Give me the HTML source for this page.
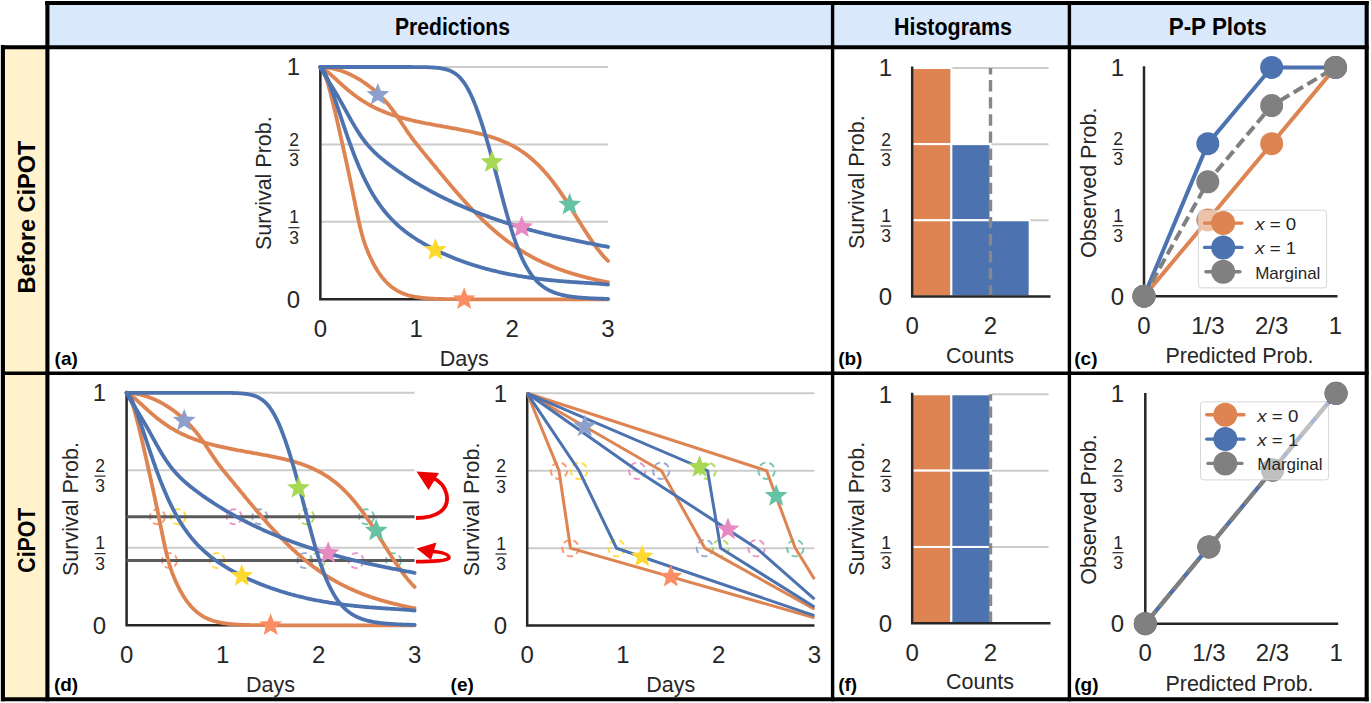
<!DOCTYPE html><html><head><meta charset="utf-8"><style>html,body{margin:0;padding:0;background:#fff;overflow:hidden}svg{display:block;font-family:"Liberation Sans",sans-serif;}</style></head><body>
<svg width="1371" height="703" viewBox="0 0 1371 703">
<rect x="0" y="0" width="1371" height="703" fill="#fff"/>
<rect x="47" y="3" width="1319.7" height="44.2" fill="#dae8fc"/>
<rect x="2.9" y="47" width="44.1" height="652.3" fill="#fff2cc"/>
<line x1="320.35" y1="67" x2="607.99" y2="67" stroke="#cccccc" stroke-width="2"/><line x1="320.35" y1="144.43" x2="607.99" y2="144.43" stroke="#cccccc" stroke-width="2"/><line x1="320.35" y1="221.87" x2="607.99" y2="221.87" stroke="#cccccc" stroke-width="2"/><path d="M320.35 66.2 V299.3 H607.99" fill="none" stroke="#262626" stroke-width="2.5"/>
<path d="M320.35 67 L321.09 67.45 L321.83 68.33 L322.56 69.52 L323.3 70.95 L324.04 72.59 L324.78 74.42 L325.51 76.42 L326.25 78.56 L326.99 80.84 L327.73 83.24 L328.46 85.76 L329.2 88.37 L329.94 91.08 L330.68 93.87 L331.41 96.73 L332.15 99.66 L332.89 102.65 L333.63 105.69 L334.36 108.77 L335.1 111.9 L335.84 115.06 L336.58 118.25 L337.31 121.46 L338.05 124.7 L338.79 127.95 L339.53 131.22 L340.26 134.5 L341 137.8 L341.74 141.1 L342.48 144.41 L343.21 147.73 L343.95 151.06 L344.69 154.4 L345.43 157.75 L346.16 161.12 L346.9 164.51 L347.64 167.91 L348.38 171.34 L349.11 174.8 L350.3 180.4 L351.48 186.08 L352.66 191.83 L353.84 197.65 L355.02 203.49 L356.21 209.29 L357.39 215 L358.57 220.5 L359.75 225.73 L360.93 230.61 L362.12 235.08 L363.3 239.15 L364.48 242.83 L365.66 246.19 L366.85 249.29 L368.03 252.19 L369.21 254.92 L370.39 257.52 L371.57 259.99 L372.76 262.35 L373.94 264.59 L375.12 266.73 L376.3 268.75 L377.48 270.68 L378.67 272.5 L379.85 274.22 L381.03 275.86 L382.21 277.4 L383.39 278.86 L384.58 280.23 L385.76 281.53 L386.94 282.75 L388.12 283.89 L389.3 284.97 L390.49 285.98 L391.67 286.93 L392.85 287.82 L394.03 288.66 L395.22 289.44 L396.4 290.16 L397.58 290.85 L398.76 291.48 L399.94 292.07 L401.13 292.63 L402.31 293.14 L403.49 293.62 L404.67 294.06 L405.85 294.48 L407.04 294.86 L408.22 295.22 L409.4 295.55 L410.58 295.85 L411.76 296.13 L412.95 296.39 L414.13 296.64 L415.31 296.86 L416.49 297.06 L417.67 297.25 L418.86 297.43 L420.04 297.59 L421.22 297.74 L422.4 297.87 L423.59 298 L424.77 298.11 L425.95 298.22 L427.13 298.31 L428.31 298.4 L429.5 298.48 L430.68 298.56 L431.86 298.63 L433.04 298.69 L434.22 298.74 L435.41 298.8 L436.59 298.84 L437.77 298.89 L438.95 298.93 L440.13 298.96 L441.32 298.99 L442.5 299.02 L443.68 299.05 L444.86 299.07 L446.04 299.1 L447.23 299.12 L448.41 299.13 L449.59 299.15 L450.77 299.17 L451.96 299.18 L453.14 299.19 L454.32 299.2 L455.5 299.21 L456.68 299.22 L457.87 299.23 L459.05 299.24 L460.23 299.24 L461.41 299.25 L462.59 299.25 L463.78 299.26 L464.96 299.26 L466.14 299.27 L467.32 299.27 L468.5 299.27 L469.69 299.28 L470.87 299.28 L472.05 299.28 L473.23 299.28 L474.41 299.29 L475.6 299.29 L476.78 299.29 L477.96 299.29 L479.14 299.29 L480.33 299.29 L481.51 299.29 L482.69 299.29 L483.87 299.29 L485.05 299.29 L486.24 299.3 L487.42 299.3 L488.6 299.3 L489.78 299.3 L490.96 299.3 L492.15 299.3 L493.33 299.3 L494.51 299.3 L495.69 299.3 L496.87 299.3 L498.06 299.3 L499.24 299.3 L500.42 299.3 L501.6 299.3 L502.78 299.3 L503.97 299.3 L505.15 299.3 L506.33 299.3 L507.51 299.3 L508.7 299.3 L509.88 299.3 L511.06 299.3 L512.24 299.3 L513.42 299.3 L514.61 299.3 L515.79 299.3 L516.97 299.3 L518.15 299.3 L519.33 299.3 L520.52 299.3 L521.7 299.3 L522.88 299.3 L524.06 299.3 L525.24 299.3 L526.43 299.3 L527.61 299.3 L528.79 299.3 L529.97 299.3 L531.15 299.3 L532.34 299.3 L533.52 299.3 L534.7 299.3 L535.88 299.3 L537.07 299.3 L538.25 299.3 L539.43 299.3 L540.61 299.3 L541.79 299.3 L542.98 299.3 L544.16 299.3 L545.34 299.3 L546.52 299.3 L547.7 299.3 L548.89 299.3 L550.07 299.3 L551.25 299.3 L552.43 299.3 L553.61 299.3 L554.8 299.3 L555.98 299.3 L557.16 299.3 L558.34 299.3 L559.52 299.3 L560.71 299.3 L561.89 299.3 L563.07 299.3 L564.25 299.3 L565.44 299.3 L566.62 299.3 L567.8 299.3 L568.98 299.3 L570.16 299.3 L571.35 299.3 L572.53 299.3 L573.71 299.3 L574.89 299.3 L576.07 299.3 L577.26 299.3 L578.44 299.3 L579.62 299.3 L580.8 299.3 L581.98 299.3 L583.17 299.3 L584.35 299.3 L585.53 299.3 L586.71 299.3 L587.89 299.3 L589.08 299.3 L590.26 299.3 L591.44 299.3 L592.62 299.3 L593.81 299.3 L594.99 299.3 L596.17 299.3 L597.35 299.3 L598.53 299.3 L599.72 299.3 L600.9 299.3 L602.08 299.3 L603.26 299.3 L604.44 299.3 L605.63 299.3 L606.81 299.3 L607.99 299.3" fill="none" stroke="#dd8452" stroke-width="3.8" stroke-linejoin="round" stroke-linecap="round"/><path d="M320.35 67 L321.09 67.01 L321.83 67.04 L322.56 67.08 L323.3 67.12 L324.04 67.18 L324.78 67.25 L325.51 67.32 L326.25 67.41 L326.99 67.5 L327.73 67.6 L328.46 67.71 L329.2 67.82 L329.94 67.95 L330.68 68.08 L331.41 68.22 L332.15 68.37 L332.89 68.53 L333.63 68.7 L334.36 68.87 L335.1 69.05 L335.84 69.24 L336.58 69.44 L337.31 69.64 L338.05 69.86 L338.79 70.08 L339.53 70.31 L340.26 70.55 L341 70.79 L341.74 71.05 L342.48 71.31 L343.21 71.58 L343.95 71.85 L344.69 72.14 L345.43 72.43 L346.16 72.74 L346.9 73.04 L347.64 73.36 L348.38 73.69 L349.11 74.02 L350.3 74.57 L351.48 75.15 L352.66 75.74 L353.84 76.35 L355.02 76.99 L356.21 77.64 L357.39 78.32 L358.57 79.01 L359.75 79.73 L360.93 80.47 L362.12 81.23 L363.3 82.01 L364.48 82.81 L365.66 83.63 L366.85 84.48 L368.03 85.35 L369.21 86.24 L370.39 87.15 L371.57 88.09 L372.76 89.06 L373.94 90.05 L375.12 91.06 L376.3 92.1 L377.48 93.18 L378.67 94.28 L379.85 95.41 L381.03 96.58 L382.21 97.77 L383.39 99.01 L384.58 100.28 L385.76 101.59 L386.94 102.93 L388.12 104.32 L389.3 105.75 L390.49 107.22 L391.67 108.74 L392.85 110.29 L394.03 111.89 L395.22 113.53 L396.4 115.2 L397.58 116.91 L398.76 118.64 L399.94 120.4 L401.13 122.18 L402.31 123.97 L403.49 125.76 L404.67 127.55 L405.85 129.32 L407.04 131.08 L408.22 132.81 L409.4 134.51 L410.58 136.18 L411.76 137.81 L412.95 139.4 L414.13 140.96 L415.31 142.48 L416.49 143.98 L417.67 145.46 L418.86 146.92 L420.04 148.36 L421.22 149.8 L422.4 151.23 L423.59 152.66 L424.77 154.09 L425.95 155.52 L427.13 156.95 L428.31 158.39 L429.5 159.82 L430.68 161.25 L431.86 162.69 L433.04 164.13 L434.22 165.56 L435.41 167 L436.59 168.43 L437.77 169.86 L438.95 171.29 L440.13 172.72 L441.32 174.15 L442.5 175.57 L443.68 176.99 L444.86 178.41 L446.04 179.82 L447.23 181.23 L448.41 182.63 L449.59 184.03 L450.77 185.42 L451.96 186.81 L453.14 188.19 L454.32 189.57 L455.5 190.93 L456.68 192.3 L457.87 193.65 L459.05 195 L460.23 196.33 L461.41 197.67 L462.59 198.99 L463.78 200.3 L464.96 201.6 L466.14 202.9 L467.32 204.19 L468.5 205.46 L469.69 206.73 L470.87 207.98 L472.05 209.23 L473.23 210.47 L474.41 211.69 L475.6 212.91 L476.78 214.11 L477.96 215.3 L479.14 216.48 L480.33 217.65 L481.51 218.81 L482.69 219.96 L483.87 221.09 L485.05 222.21 L486.24 223.32 L487.42 224.42 L488.6 225.51 L489.78 226.58 L490.96 227.65 L492.15 228.7 L493.33 229.73 L494.51 230.76 L495.69 231.77 L496.87 232.77 L498.06 233.76 L499.24 234.73 L500.42 235.69 L501.6 236.64 L502.78 237.58 L503.97 238.51 L505.15 239.42 L506.33 240.32 L507.51 241.21 L508.7 242.08 L509.88 242.94 L511.06 243.8 L512.24 244.63 L513.42 245.46 L514.61 246.27 L515.79 247.08 L516.97 247.87 L518.15 248.64 L519.33 249.41 L520.52 250.17 L521.7 250.91 L522.88 251.64 L524.06 252.36 L525.24 253.07 L526.43 253.77 L527.61 254.46 L528.79 255.13 L529.97 255.8 L531.15 256.45 L532.34 257.1 L533.52 257.73 L534.7 258.35 L535.88 258.96 L537.07 259.57 L538.25 260.16 L539.43 260.74 L540.61 261.32 L541.79 261.88 L542.98 262.43 L544.16 262.98 L545.34 263.52 L546.52 264.04 L547.7 264.56 L548.89 265.07 L550.07 265.57 L551.25 266.06 L552.43 266.55 L553.61 267.02 L554.8 267.49 L555.98 267.95 L557.16 268.4 L558.34 268.85 L559.52 269.29 L560.71 269.71 L561.89 270.14 L563.07 270.55 L564.25 270.96 L565.44 271.36 L566.62 271.76 L567.8 272.15 L568.98 272.53 L570.16 272.9 L571.35 273.27 L572.53 273.64 L573.71 273.99 L574.89 274.34 L576.07 274.69 L577.26 275.03 L578.44 275.36 L579.62 275.69 L580.8 276.02 L581.98 276.34 L583.17 276.65 L584.35 276.96 L585.53 277.26 L586.71 277.56 L587.89 277.86 L589.08 278.15 L590.26 278.43 L591.44 278.71 L592.62 278.99 L593.81 279.26 L594.99 279.53 L596.17 279.79 L597.35 280.05 L598.53 280.31 L599.72 280.56 L600.9 280.81 L602.08 281.06 L603.26 281.3 L604.44 281.53 L605.63 281.77 L606.81 282 L607.99 282.23" fill="none" stroke="#dd8452" stroke-width="3.8" stroke-linejoin="round" stroke-linecap="round"/><path d="M320.35 67 L321.09 67.24 L321.83 67.6 L322.56 68.03 L323.3 68.5 L324.04 69.01 L324.78 69.55 L325.51 70.11 L326.25 70.69 L326.99 71.29 L327.73 71.91 L328.46 72.54 L329.2 73.18 L329.94 73.83 L330.68 74.49 L331.41 75.15 L332.15 75.82 L332.89 76.49 L333.63 77.17 L334.36 77.84 L335.1 78.52 L335.84 79.2 L336.58 79.88 L337.31 80.56 L338.05 81.24 L338.79 81.91 L339.53 82.59 L340.26 83.26 L341 83.92 L341.74 84.58 L342.48 85.24 L343.21 85.9 L343.95 86.54 L344.69 87.19 L345.43 87.82 L346.16 88.46 L346.9 89.08 L347.64 89.7 L348.38 90.32 L349.11 90.92 L350.3 91.88 L351.48 92.83 L352.66 93.75 L353.84 94.66 L355.02 95.54 L356.21 96.41 L357.39 97.26 L358.57 98.1 L359.75 98.91 L360.93 99.7 L362.12 100.48 L363.3 101.24 L364.48 101.98 L365.66 102.7 L366.85 103.4 L368.03 104.08 L369.21 104.75 L370.39 105.4 L371.57 106.04 L372.76 106.66 L373.94 107.26 L375.12 107.84 L376.3 108.42 L377.48 108.97 L378.67 109.51 L379.85 110.04 L381.03 110.56 L382.21 111.06 L383.39 111.54 L384.58 112.02 L385.76 112.48 L386.94 112.93 L388.12 113.37 L389.3 113.8 L390.49 114.22 L391.67 114.62 L392.85 115.02 L394.03 115.41 L395.22 115.79 L396.4 116.15 L397.58 116.52 L398.76 116.87 L399.94 117.21 L401.13 117.55 L402.31 117.88 L403.49 118.2 L404.67 118.51 L405.85 118.82 L407.04 119.12 L408.22 119.42 L409.4 119.71 L410.58 119.99 L411.76 120.27 L412.95 120.55 L414.13 120.82 L415.31 121.08 L416.49 121.34 L417.67 121.6 L418.86 121.85 L420.04 122.1 L421.22 122.35 L422.4 122.59 L423.59 122.83 L424.77 123.06 L425.95 123.3 L427.13 123.53 L428.31 123.76 L429.5 123.98 L430.68 124.21 L431.86 124.43 L433.04 124.65 L434.22 124.87 L435.41 125.09 L436.59 125.3 L437.77 125.52 L438.95 125.73 L440.13 125.94 L441.32 126.16 L442.5 126.37 L443.68 126.58 L444.86 126.79 L446.04 127 L447.23 127.21 L448.41 127.43 L449.59 127.64 L450.77 127.85 L451.96 128.06 L453.14 128.28 L454.32 128.49 L455.5 128.71 L456.68 128.93 L457.87 129.15 L459.05 129.37 L460.23 129.6 L461.41 129.82 L462.59 130.05 L463.78 130.28 L464.96 130.52 L466.14 130.75 L467.32 130.99 L468.5 131.24 L469.69 131.48 L470.87 131.74 L472.05 131.99 L473.23 132.25 L474.41 132.52 L475.6 132.79 L476.78 133.06 L477.96 133.34 L479.14 133.63 L480.33 133.92 L481.51 134.22 L482.69 134.53 L483.87 134.84 L485.05 135.16 L486.24 135.49 L487.42 135.83 L488.6 136.18 L489.78 136.53 L490.96 136.9 L492.15 137.27 L493.33 137.66 L494.51 138.05 L495.69 138.46 L496.87 138.88 L498.06 139.31 L499.24 139.75 L500.42 140.21 L501.6 140.68 L502.78 141.16 L503.97 141.66 L505.15 142.17 L506.33 142.7 L507.51 143.25 L508.7 143.81 L509.88 144.39 L511.06 144.99 L512.24 145.6 L513.42 146.24 L514.61 146.89 L515.79 147.57 L516.97 148.26 L518.15 148.98 L519.33 149.72 L520.52 150.48 L521.7 151.26 L522.88 152.07 L524.06 152.9 L525.24 153.75 L526.43 154.63 L527.61 155.54 L528.79 156.47 L529.97 157.43 L531.15 158.42 L532.34 159.44 L533.52 160.48 L534.7 161.55 L535.88 162.65 L537.07 163.78 L538.25 164.94 L539.43 166.13 L540.61 167.34 L541.79 168.59 L542.98 169.87 L544.16 171.18 L545.34 172.52 L546.52 173.89 L547.7 175.29 L548.89 176.72 L550.07 178.18 L551.25 179.67 L552.43 181.19 L553.61 182.74 L554.8 184.32 L555.98 185.92 L557.16 187.55 L558.34 189.21 L559.52 190.89 L560.71 192.6 L561.89 194.33 L563.07 196.09 L564.25 197.86 L565.44 199.65 L566.62 201.47 L567.8 203.3 L568.98 205.14 L570.16 207 L571.35 208.87 L572.53 210.75 L573.71 212.64 L574.89 214.53 L576.07 216.43 L577.26 218.33 L578.44 220.23 L579.62 222.12 L580.8 224.01 L581.98 225.9 L583.17 227.77 L584.35 229.63 L585.53 231.48 L586.71 233.31 L587.89 235.12 L589.08 236.91 L590.26 238.67 L591.44 240.41 L592.62 242.12 L593.81 243.8 L594.99 245.45 L596.17 247.06 L597.35 248.63 L598.53 250.17 L599.72 251.66 L600.9 253.12 L602.08 254.53 L603.26 255.89 L604.44 257.21 L605.63 258.49 L606.81 259.71 L607.99 260.89" fill="none" stroke="#dd8452" stroke-width="3.8" stroke-linejoin="round" stroke-linecap="round"/><path d="M320.35 67 L321.09 67 L321.83 67 L322.56 67 L323.3 67 L324.04 67 L324.78 67 L325.51 67 L326.25 67 L326.99 67 L327.73 67 L328.46 67 L329.2 67 L329.94 67 L330.68 67 L331.41 67 L332.15 67 L332.89 67 L333.63 67 L334.36 67 L335.1 67 L335.84 67 L336.58 67 L337.31 67 L338.05 67 L338.79 67 L339.53 67 L340.26 67 L341 67 L341.74 67 L342.48 67 L343.21 67 L343.95 67 L344.69 67 L345.43 67 L346.16 67 L346.9 67 L347.64 67 L348.38 67 L349.11 67 L350.3 67 L351.48 67 L352.66 67 L353.84 67 L355.02 67 L356.21 67 L357.39 67 L358.57 67 L359.75 67 L360.93 67 L362.12 67 L363.3 67 L364.48 67 L365.66 67 L366.85 67 L368.03 67 L369.21 67 L370.39 67 L371.57 67 L372.76 67 L373.94 67 L375.12 67 L376.3 67 L377.48 67 L378.67 67 L379.85 67 L381.03 67 L382.21 67 L383.39 67 L384.58 67 L385.76 67 L386.94 67 L388.12 67 L389.3 67 L390.49 67 L391.67 67 L392.85 67 L394.03 67 L395.22 67 L396.4 67 L397.58 67 L398.76 67 L399.94 67 L401.13 67 L402.31 67 L403.49 67.01 L404.67 67.01 L405.85 67.01 L407.04 67.01 L408.22 67.01 L409.4 67.02 L410.58 67.02 L411.76 67.02 L412.95 67.03 L414.13 67.03 L415.31 67.04 L416.49 67.05 L417.67 67.06 L418.86 67.07 L420.04 67.08 L421.22 67.09 L422.4 67.11 L423.59 67.13 L424.77 67.16 L425.95 67.18 L427.13 67.22 L428.31 67.25 L429.5 67.3 L430.68 67.35 L431.86 67.41 L433.04 67.48 L434.22 67.56 L435.41 67.65 L436.59 67.75 L437.77 67.87 L438.95 68.01 L440.13 68.17 L441.32 68.35 L442.5 68.56 L443.68 68.79 L444.86 69.06 L446.04 69.37 L447.23 69.72 L448.41 70.11 L449.59 70.56 L450.77 71.06 L451.96 71.62 L453.14 72.26 L454.32 72.97 L455.5 73.77 L456.68 74.65 L457.87 75.64 L459.05 76.72 L460.23 77.93 L461.41 79.25 L462.59 80.69 L463.78 82.27 L464.96 83.99 L466.14 85.85 L467.32 87.85 L468.5 89.99 L469.69 92.28 L470.87 94.72 L472.05 97.3 L473.23 100.02 L474.41 102.88 L475.6 105.87 L476.78 108.99 L477.96 112.23 L479.14 115.58 L480.33 119.06 L481.51 122.63 L482.69 126.31 L483.87 130.09 L485.05 133.97 L486.24 137.93 L487.42 141.98 L488.6 146.12 L489.78 150.32 L490.96 154.6 L492.15 158.94 L493.33 163.33 L494.51 167.77 L495.69 172.25 L496.87 176.76 L498.06 181.28 L499.24 185.8 L500.42 190.31 L501.6 194.8 L502.78 199.26 L503.97 203.67 L505.15 208.01 L506.33 212.28 L507.51 216.47 L508.7 220.57 L509.88 224.56 L511.06 228.44 L512.24 232.19 L513.42 235.82 L514.61 239.32 L515.79 242.69 L516.97 245.92 L518.15 249.01 L519.33 251.96 L520.52 254.78 L521.7 257.45 L522.88 260 L524.06 262.41 L525.24 264.69 L526.43 266.84 L527.61 268.88 L528.79 270.8 L529.97 272.61 L531.15 274.31 L532.34 275.91 L533.52 277.41 L534.7 278.82 L535.88 280.14 L537.07 281.38 L538.25 282.53 L539.43 283.62 L540.61 284.63 L541.79 285.58 L542.98 286.47 L544.16 287.3 L545.34 288.08 L546.52 288.8 L547.7 289.48 L548.89 290.11 L550.07 290.7 L551.25 291.25 L552.43 291.77 L553.61 292.25 L554.8 292.7 L555.98 293.12 L557.16 293.51 L558.34 293.87 L559.52 294.21 L560.71 294.53 L561.89 294.83 L563.07 295.11 L564.25 295.37 L565.44 295.61 L566.62 295.84 L567.8 296.05 L568.98 296.25 L570.16 296.44 L571.35 296.61 L572.53 296.78 L573.71 296.93 L574.89 297.07 L576.07 297.2 L577.26 297.33 L578.44 297.45 L579.62 297.56 L580.8 297.66 L581.98 297.76 L583.17 297.85 L584.35 297.93 L585.53 298.01 L586.71 298.08 L587.89 298.15 L589.08 298.22 L590.26 298.28 L591.44 298.34 L592.62 298.39 L593.81 298.45 L594.99 298.49 L596.17 298.54 L597.35 298.58 L598.53 298.62 L599.72 298.66 L600.9 298.69 L602.08 298.73 L603.26 298.76 L604.44 298.79 L605.63 298.82 L606.81 298.84 L607.99 298.87" fill="none" stroke="#4c72b0" stroke-width="3.8" stroke-linejoin="round" stroke-linecap="round"/><path d="M320.35 67 L321.09 68.63 L321.83 70.02 L322.56 71.35 L323.3 72.62 L324.04 73.87 L324.78 75.09 L325.51 76.29 L326.25 77.49 L326.99 78.67 L327.73 79.85 L328.46 81.03 L329.2 82.21 L329.94 83.39 L330.68 84.57 L331.41 85.76 L332.15 86.95 L332.89 88.15 L333.63 89.36 L334.36 90.58 L335.1 91.81 L335.84 93.05 L336.58 94.29 L337.31 95.55 L338.05 96.82 L338.79 98.1 L339.53 99.39 L340.26 100.68 L341 101.99 L341.74 103.3 L342.48 104.62 L343.21 105.95 L343.95 107.28 L344.69 108.61 L345.43 109.95 L346.16 111.28 L346.9 112.62 L347.64 113.95 L348.38 115.29 L349.11 116.61 L350.3 118.73 L351.48 120.82 L352.66 122.88 L353.84 124.91 L355.02 126.9 L356.21 128.85 L357.39 130.75 L358.57 132.6 L359.75 134.4 L360.93 136.14 L362.12 137.82 L363.3 139.44 L364.48 141.01 L365.66 142.52 L366.85 143.98 L368.03 145.38 L369.21 146.74 L370.39 148.04 L371.57 149.3 L372.76 150.52 L373.94 151.7 L375.12 152.84 L376.3 153.95 L377.48 155.03 L378.67 156.08 L379.85 157.11 L381.03 158.12 L382.21 159.1 L383.39 160.07 L384.58 161.02 L385.76 161.96 L386.94 162.88 L388.12 163.79 L389.3 164.69 L390.49 165.58 L391.67 166.46 L392.85 167.33 L394.03 168.19 L395.22 169.03 L396.4 169.88 L397.58 170.71 L398.76 171.53 L399.94 172.35 L401.13 173.16 L402.31 173.96 L403.49 174.75 L404.67 175.54 L405.85 176.32 L407.04 177.09 L408.22 177.85 L409.4 178.61 L410.58 179.36 L411.76 180.1 L412.95 180.84 L414.13 181.57 L415.31 182.29 L416.49 183.01 L417.67 183.72 L418.86 184.43 L420.04 185.12 L421.22 185.82 L422.4 186.5 L423.59 187.18 L424.77 187.85 L425.95 188.52 L427.13 189.18 L428.31 189.84 L429.5 190.49 L430.68 191.13 L431.86 191.77 L433.04 192.4 L434.22 193.03 L435.41 193.65 L436.59 194.27 L437.77 194.88 L438.95 195.49 L440.13 196.09 L441.32 196.69 L442.5 197.28 L443.68 197.86 L444.86 198.44 L446.04 199.02 L447.23 199.59 L448.41 200.16 L449.59 200.72 L450.77 201.27 L451.96 201.82 L453.14 202.37 L454.32 202.91 L455.5 203.45 L456.68 203.99 L457.87 204.51 L459.05 205.04 L460.23 205.56 L461.41 206.08 L462.59 206.59 L463.78 207.09 L464.96 207.6 L466.14 208.1 L467.32 208.59 L468.5 209.08 L469.69 209.57 L470.87 210.05 L472.05 210.53 L473.23 211.01 L474.41 211.48 L475.6 211.94 L476.78 212.41 L477.96 212.87 L479.14 213.32 L480.33 213.77 L481.51 214.22 L482.69 214.67 L483.87 215.11 L485.05 215.55 L486.24 215.98 L487.42 216.41 L488.6 216.84 L489.78 217.26 L490.96 217.68 L492.15 218.1 L493.33 218.51 L494.51 218.92 L495.69 219.33 L496.87 219.73 L498.06 220.13 L499.24 220.53 L500.42 220.92 L501.6 221.32 L502.78 221.7 L503.97 222.09 L505.15 222.47 L506.33 222.85 L507.51 223.22 L508.7 223.6 L509.88 223.97 L511.06 224.33 L512.24 224.7 L513.42 225.06 L514.61 225.42 L515.79 225.77 L516.97 226.13 L518.15 226.48 L519.33 226.82 L520.52 227.17 L521.7 227.51 L522.88 227.85 L524.06 228.19 L525.24 228.52 L526.43 228.85 L527.61 229.18 L528.79 229.51 L529.97 229.83 L531.15 230.15 L532.34 230.47 L533.52 230.78 L534.7 231.1 L535.88 231.41 L537.07 231.72 L538.25 232.03 L539.43 232.33 L540.61 232.63 L541.79 232.93 L542.98 233.23 L544.16 233.52 L545.34 233.82 L546.52 234.11 L547.7 234.39 L548.89 234.68 L550.07 234.96 L551.25 235.25 L552.43 235.53 L553.61 235.8 L554.8 236.08 L555.98 236.35 L557.16 236.62 L558.34 236.89 L559.52 237.16 L560.71 237.43 L561.89 237.69 L563.07 237.95 L564.25 238.21 L565.44 238.47 L566.62 238.72 L567.8 238.98 L568.98 239.23 L570.16 239.48 L571.35 239.73 L572.53 239.97 L573.71 240.22 L574.89 240.46 L576.07 240.7 L577.26 240.94 L578.44 241.18 L579.62 241.42 L580.8 241.66 L581.98 241.89 L583.17 242.12 L584.35 242.35 L585.53 242.58 L586.71 242.81 L587.89 243.04 L589.08 243.27 L590.26 243.5 L591.44 243.72 L592.62 243.95 L593.81 244.18 L594.99 244.4 L596.17 244.63 L597.35 244.85 L598.53 245.08 L599.72 245.31 L600.9 245.54 L602.08 245.76 L603.26 246 L604.44 246.23 L605.63 246.47 L606.81 246.71 L607.99 246.95" fill="none" stroke="#4c72b0" stroke-width="3.8" stroke-linejoin="round" stroke-linecap="round"/><path d="M320.35 67 L321.09 67.41 L321.83 68.15 L322.56 69.11 L323.3 70.23 L324.04 71.5 L324.78 72.9 L325.51 74.4 L326.25 76 L326.99 77.68 L327.73 79.44 L328.46 81.26 L329.2 83.15 L329.94 85.09 L330.68 87.08 L331.41 89.11 L332.15 91.18 L332.89 93.28 L333.63 95.41 L334.36 97.56 L335.1 99.74 L335.84 101.93 L336.58 104.13 L337.31 106.35 L338.05 108.57 L338.79 110.79 L339.53 113.02 L340.26 115.25 L341 117.47 L341.74 119.69 L342.48 121.9 L343.21 124.1 L343.95 126.3 L344.69 128.47 L345.43 130.64 L346.16 132.79 L346.9 134.92 L347.64 137.03 L348.38 139.12 L349.11 141.2 L350.3 144.48 L351.48 147.69 L352.66 150.85 L353.84 153.95 L355.02 156.98 L356.21 159.94 L357.39 162.83 L358.57 165.66 L359.75 168.41 L360.93 171.09 L362.12 173.71 L363.3 176.25 L364.48 178.72 L365.66 181.13 L366.85 183.46 L368.03 185.73 L369.21 187.94 L370.39 190.07 L371.57 192.15 L372.76 194.16 L373.94 196.12 L375.12 198.01 L376.3 199.85 L377.48 201.63 L378.67 203.35 L379.85 205.03 L381.03 206.65 L382.21 208.23 L383.39 209.76 L384.58 211.24 L385.76 212.68 L386.94 214.07 L388.12 215.43 L389.3 216.75 L390.49 218.03 L391.67 219.27 L392.85 220.48 L394.03 221.65 L395.22 222.8 L396.4 223.91 L397.58 225 L398.76 226.05 L399.94 227.09 L401.13 228.09 L402.31 229.07 L403.49 230.03 L404.67 230.96 L405.85 231.88 L407.04 232.77 L408.22 233.65 L409.4 234.5 L410.58 235.34 L411.76 236.16 L412.95 236.96 L414.13 237.75 L415.31 238.53 L416.49 239.28 L417.67 240.03 L418.86 240.76 L420.04 241.48 L421.22 242.19 L422.4 242.88 L423.59 243.56 L424.77 244.24 L425.95 244.9 L427.13 245.55 L428.31 246.19 L429.5 246.82 L430.68 247.44 L431.86 248.06 L433.04 248.66 L434.22 249.26 L435.41 249.84 L436.59 250.42 L437.77 250.99 L438.95 251.56 L440.13 252.11 L441.32 252.66 L442.5 253.2 L443.68 253.73 L444.86 254.26 L446.04 254.78 L447.23 255.29 L448.41 255.79 L449.59 256.29 L450.77 256.78 L451.96 257.27 L453.14 257.75 L454.32 258.22 L455.5 258.69 L456.68 259.15 L457.87 259.6 L459.05 260.05 L460.23 260.49 L461.41 260.93 L462.59 261.36 L463.78 261.78 L464.96 262.2 L466.14 262.62 L467.32 263.02 L468.5 263.43 L469.69 263.82 L470.87 264.21 L472.05 264.6 L473.23 264.98 L474.41 265.35 L475.6 265.72 L476.78 266.08 L477.96 266.44 L479.14 266.8 L480.33 267.14 L481.51 267.49 L482.69 267.83 L483.87 268.16 L485.05 268.49 L486.24 268.81 L487.42 269.13 L488.6 269.44 L489.78 269.75 L490.96 270.05 L492.15 270.35 L493.33 270.64 L494.51 270.93 L495.69 271.22 L496.87 271.5 L498.06 271.77 L499.24 272.04 L500.42 272.31 L501.6 272.57 L502.78 272.83 L503.97 273.09 L505.15 273.34 L506.33 273.58 L507.51 273.82 L508.7 274.06 L509.88 274.29 L511.06 274.52 L512.24 274.75 L513.42 274.97 L514.61 275.18 L515.79 275.4 L516.97 275.61 L518.15 275.81 L519.33 276.01 L520.52 276.21 L521.7 276.41 L522.88 276.6 L524.06 276.79 L525.24 276.97 L526.43 277.15 L527.61 277.33 L528.79 277.5 L529.97 277.68 L531.15 277.84 L532.34 278.01 L533.52 278.17 L534.7 278.33 L535.88 278.48 L537.07 278.64 L538.25 278.78 L539.43 278.93 L540.61 279.07 L541.79 279.22 L542.98 279.35 L544.16 279.49 L545.34 279.62 L546.52 279.75 L547.7 279.88 L548.89 280 L550.07 280.13 L551.25 280.24 L552.43 280.36 L553.61 280.48 L554.8 280.59 L555.98 280.7 L557.16 280.81 L558.34 280.91 L559.52 281.02 L560.71 281.12 L561.89 281.22 L563.07 281.32 L564.25 281.41 L565.44 281.5 L566.62 281.6 L567.8 281.69 L568.98 281.77 L570.16 281.86 L571.35 281.95 L572.53 282.03 L573.71 282.11 L574.89 282.19 L576.07 282.27 L577.26 282.35 L578.44 282.43 L579.62 282.5 L580.8 282.58 L581.98 282.65 L583.17 282.72 L584.35 282.8 L585.53 282.87 L586.71 282.94 L587.89 283.01 L589.08 283.09 L590.26 283.16 L591.44 283.23 L592.62 283.31 L593.81 283.39 L594.99 283.46 L596.17 283.54 L597.35 283.63 L598.53 283.71 L599.72 283.8 L600.9 283.9 L602.08 284 L603.26 284.1 L604.44 284.21 L605.63 284.33 L606.81 284.46 L607.99 284.59" fill="none" stroke="#4c72b0" stroke-width="3.8" stroke-linejoin="round" stroke-linecap="round"/>
<polygon points="377.88,82.88 380.91,90.7 389.29,91.17 382.79,96.47 384.93,104.58 377.88,100.04 370.82,104.58 372.97,96.47 366.47,91.17 374.85,90.7" fill="#8da0cb"/><polygon points="491.98,150.24 495.01,158.07 503.39,158.53 496.88,163.84 499.03,171.95 491.98,167.4 484.92,171.95 487.07,163.84 480.56,158.53 488.94,158.07" fill="#a6d854"/><polygon points="569.64,192.75 572.67,200.58 581.05,201.05 574.55,206.35 576.69,214.46 569.64,209.91 562.58,214.46 564.73,206.35 558.23,201.05 566.61,200.58" fill="#66c2a5"/><polygon points="521.7,215.29 524.73,223.11 533.11,223.58 526.61,228.88 528.75,237 521.7,232.45 514.64,237 516.79,228.88 510.29,223.58 518.67,223.11" fill="#e78ac3"/><polygon points="435.41,238.05 438.44,245.88 446.82,246.34 440.31,251.65 442.46,259.76 435.41,255.21 428.35,259.76 430.5,251.65 423.99,246.34 432.37,245.88" fill="#ffd92f"/><polygon points="464.17,287.3 467.2,295.13 475.58,295.59 469.08,300.89 471.22,309.01 464.17,304.46 457.12,309.01 459.26,300.89 452.76,295.59 461.14,295.13" fill="#fc8d62"/>
<text x="300" y="75.3" font-size="24" text-anchor="end" fill="#262626">1</text><text x="300" y="307.9" font-size="24" text-anchor="end" fill="#262626">0</text><text x="294" y="146.03" font-size="17.5" text-anchor="middle" fill="#262626">2</text><rect x="288.5" y="149.63" width="11" height="1.2" fill="#262626"/><text x="294" y="166.23" font-size="17.5" text-anchor="middle" fill="#262626">3</text><text x="294" y="223.47" font-size="17.5" text-anchor="middle" fill="#262626">1</text><rect x="288.5" y="227.07" width="11" height="1.2" fill="#262626"/><text x="294" y="243.67" font-size="17.5" text-anchor="middle" fill="#262626">3</text><text x="320.35" y="336.5" font-size="24" text-anchor="middle" fill="#262626">0</text><text x="416.23" y="336.5" font-size="24" text-anchor="middle" fill="#262626">1</text><text x="512.11" y="336.5" font-size="24" text-anchor="middle" fill="#262626">2</text><text x="607.99" y="336.5" font-size="24" text-anchor="middle" fill="#262626">3</text><text x="0" y="0" font-size="21.5" text-anchor="middle" fill="#262626" transform="translate(270.5 183.15) rotate(-90)">Survival Prob.</text>
<text x="464.17" y="366" font-size="21.5" text-anchor="middle" fill="#262626">Days</text>
<line x1="126.6" y1="392.8" x2="414.6" y2="392.8" stroke="#cccccc" stroke-width="2"/><line x1="126.6" y1="470.3" x2="414.6" y2="470.3" stroke="#cccccc" stroke-width="2"/><line x1="126.6" y1="547.8" x2="414.6" y2="547.8" stroke="#cccccc" stroke-width="2"/><path d="M126.6 392 V625.3 H414.6" fill="none" stroke="#262626" stroke-width="2.5"/>
<circle cx="157.5" cy="516.8" r="7.5" fill="none" stroke="#fc8d62" stroke-width="1.9" stroke-dasharray="6.3 4" stroke-opacity="0.9"/>
<circle cx="178.2" cy="516.8" r="7.5" fill="none" stroke="#ffd92f" stroke-width="1.9" stroke-dasharray="6.3 4" stroke-opacity="0.9"/>
<circle cx="234.2" cy="516.8" r="7.5" fill="none" stroke="#e78ac3" stroke-width="1.9" stroke-dasharray="6.3 4" stroke-opacity="0.9"/>
<circle cx="259.8" cy="516.8" r="7.5" fill="none" stroke="#8da0cb" stroke-width="1.9" stroke-dasharray="6.3 4" stroke-opacity="0.9"/>
<circle cx="306.5" cy="516.8" r="7.5" fill="none" stroke="#a6d854" stroke-width="1.9" stroke-dasharray="6.3 4" stroke-opacity="0.9"/>
<circle cx="366.5" cy="516.8" r="7.5" fill="none" stroke="#66c2a5" stroke-width="1.9" stroke-dasharray="6.3 4" stroke-opacity="0.9"/>
<circle cx="169.5" cy="560.6" r="7.5" fill="none" stroke="#fc8d62" stroke-width="1.9" stroke-dasharray="6.3 4" stroke-opacity="0.9"/>
<circle cx="217" cy="560.6" r="7.5" fill="none" stroke="#ffd92f" stroke-width="1.9" stroke-dasharray="6.3 4" stroke-opacity="0.9"/>
<circle cx="304.8" cy="560.6" r="7.5" fill="none" stroke="#8da0cb" stroke-width="1.9" stroke-dasharray="6.3 4" stroke-opacity="0.9"/>
<circle cx="317.5" cy="560.6" r="7.5" fill="none" stroke="#a6d854" stroke-width="1.9" stroke-dasharray="6.3 4" stroke-opacity="0.9"/>
<circle cx="356" cy="560.6" r="7.5" fill="none" stroke="#e78ac3" stroke-width="1.9" stroke-dasharray="6.3 4" stroke-opacity="0.9"/>
<circle cx="393.5" cy="560.6" r="7.5" fill="none" stroke="#66c2a5" stroke-width="1.9" stroke-dasharray="6.3 4" stroke-opacity="0.9"/>
<line x1="126.6" y1="516.8" x2="414.6" y2="516.8" stroke="#5a5a5a" stroke-width="3"/>
<line x1="126.6" y1="560.6" x2="414.6" y2="560.6" stroke="#5a5a5a" stroke-width="3"/>
<path d="M126.6 392.8 L127.34 393.25 L128.08 394.13 L128.82 395.32 L129.55 396.75 L130.29 398.4 L131.03 400.23 L131.77 402.22 L132.51 404.37 L133.25 406.65 L133.98 409.06 L134.72 411.58 L135.46 414.19 L136.2 416.9 L136.94 419.69 L137.68 422.56 L138.42 425.49 L139.15 428.48 L139.89 431.52 L140.63 434.61 L141.37 437.74 L142.11 440.9 L142.85 444.09 L143.58 447.31 L144.32 450.55 L145.06 453.81 L145.8 457.08 L146.54 460.36 L147.28 463.66 L148.02 466.96 L148.75 470.28 L149.49 473.6 L150.23 476.93 L150.97 480.28 L151.71 483.63 L152.45 487 L153.18 490.39 L153.92 493.8 L154.66 497.23 L155.4 500.69 L156.58 506.29 L157.77 511.98 L158.95 517.74 L160.13 523.56 L161.32 529.4 L162.5 535.22 L163.68 540.92 L164.87 546.44 L166.05 551.67 L167.24 556.55 L168.42 561.02 L169.6 565.09 L170.79 568.78 L171.97 572.15 L173.15 575.25 L174.34 578.15 L175.52 580.88 L176.7 583.48 L177.89 585.96 L179.07 588.32 L180.25 590.56 L181.44 592.7 L182.62 594.73 L183.81 596.65 L184.99 598.48 L186.17 600.2 L187.36 601.84 L188.54 603.38 L189.72 604.84 L190.91 606.22 L192.09 607.51 L193.27 608.73 L194.46 609.88 L195.64 610.96 L196.82 611.97 L198.01 612.92 L199.19 613.81 L200.38 614.65 L201.56 615.43 L202.74 616.16 L203.93 616.84 L205.11 617.47 L206.29 618.07 L207.48 618.62 L208.66 619.14 L209.84 619.61 L211.03 620.06 L212.21 620.47 L213.39 620.86 L214.58 621.21 L215.76 621.54 L216.95 621.85 L218.13 622.13 L219.31 622.39 L220.5 622.63 L221.68 622.86 L222.86 623.06 L224.05 623.25 L225.23 623.43 L226.41 623.59 L227.6 623.74 L228.78 623.87 L229.96 624 L231.15 624.11 L232.33 624.22 L233.52 624.31 L234.7 624.4 L235.88 624.48 L237.07 624.56 L238.25 624.63 L239.43 624.69 L240.62 624.74 L241.8 624.8 L242.98 624.84 L244.17 624.89 L245.35 624.93 L246.53 624.96 L247.72 624.99 L248.9 625.02 L250.08 625.05 L251.27 625.07 L252.45 625.1 L253.64 625.12 L254.82 625.13 L256 625.15 L257.19 625.17 L258.37 625.18 L259.55 625.19 L260.74 625.2 L261.92 625.21 L263.1 625.22 L264.29 625.23 L265.47 625.24 L266.65 625.24 L267.84 625.25 L269.02 625.25 L270.21 625.26 L271.39 625.26 L272.57 625.27 L273.76 625.27 L274.94 625.27 L276.12 625.28 L277.31 625.28 L278.49 625.28 L279.67 625.28 L280.86 625.29 L282.04 625.29 L283.22 625.29 L284.41 625.29 L285.59 625.29 L286.78 625.29 L287.96 625.29 L289.14 625.29 L290.33 625.29 L291.51 625.29 L292.69 625.3 L293.88 625.3 L295.06 625.3 L296.24 625.3 L297.43 625.3 L298.61 625.3 L299.79 625.3 L300.98 625.3 L302.16 625.3 L303.35 625.3 L304.53 625.3 L305.71 625.3 L306.9 625.3 L308.08 625.3 L309.26 625.3 L310.45 625.3 L311.63 625.3 L312.81 625.3 L314 625.3 L315.18 625.3 L316.36 625.3 L317.55 625.3 L318.73 625.3 L319.92 625.3 L321.1 625.3 L322.28 625.3 L323.47 625.3 L324.65 625.3 L325.83 625.3 L327.02 625.3 L328.2 625.3 L329.38 625.3 L330.57 625.3 L331.75 625.3 L332.93 625.3 L334.12 625.3 L335.3 625.3 L336.48 625.3 L337.67 625.3 L338.85 625.3 L340.04 625.3 L341.22 625.3 L342.4 625.3 L343.59 625.3 L344.77 625.3 L345.95 625.3 L347.14 625.3 L348.32 625.3 L349.5 625.3 L350.69 625.3 L351.87 625.3 L353.05 625.3 L354.24 625.3 L355.42 625.3 L356.61 625.3 L357.79 625.3 L358.97 625.3 L360.16 625.3 L361.34 625.3 L362.52 625.3 L363.71 625.3 L364.89 625.3 L366.07 625.3 L367.26 625.3 L368.44 625.3 L369.62 625.3 L370.81 625.3 L371.99 625.3 L373.18 625.3 L374.36 625.3 L375.54 625.3 L376.73 625.3 L377.91 625.3 L379.09 625.3 L380.28 625.3 L381.46 625.3 L382.64 625.3 L383.83 625.3 L385.01 625.3 L386.19 625.3 L387.38 625.3 L388.56 625.3 L389.75 625.3 L390.93 625.3 L392.11 625.3 L393.3 625.3 L394.48 625.3 L395.66 625.3 L396.85 625.3 L398.03 625.3 L399.21 625.3 L400.4 625.3 L401.58 625.3 L402.76 625.3 L403.95 625.3 L405.13 625.3 L406.32 625.3 L407.5 625.3 L408.68 625.3 L409.87 625.3 L411.05 625.3 L412.23 625.3 L413.42 625.3 L414.6 625.3" fill="none" stroke="#dd8452" stroke-width="3.8" stroke-linejoin="round" stroke-linecap="round"/><path d="M126.6 392.8 L127.34 392.81 L128.08 392.84 L128.82 392.88 L129.55 392.92 L130.29 392.98 L131.03 393.05 L131.77 393.12 L132.51 393.21 L133.25 393.3 L133.98 393.4 L134.72 393.51 L135.46 393.63 L136.2 393.75 L136.94 393.88 L137.68 394.03 L138.42 394.17 L139.15 394.33 L139.89 394.5 L140.63 394.67 L141.37 394.85 L142.11 395.04 L142.85 395.24 L143.58 395.45 L144.32 395.66 L145.06 395.88 L145.8 396.11 L146.54 396.35 L147.28 396.6 L148.02 396.85 L148.75 397.11 L149.49 397.38 L150.23 397.66 L150.97 397.94 L151.71 398.24 L152.45 398.54 L153.18 398.85 L153.92 399.17 L154.66 399.49 L155.4 399.83 L156.58 400.38 L157.77 400.95 L158.95 401.55 L160.13 402.16 L161.32 402.79 L162.5 403.45 L163.68 404.12 L164.87 404.82 L166.05 405.54 L167.24 406.28 L168.42 407.04 L169.6 407.82 L170.79 408.62 L171.97 409.45 L173.15 410.29 L174.34 411.16 L175.52 412.05 L176.7 412.97 L177.89 413.91 L179.07 414.87 L180.25 415.86 L181.44 416.88 L182.62 417.93 L183.81 419 L184.99 420.1 L186.17 421.23 L187.36 422.4 L188.54 423.6 L189.72 424.83 L190.91 426.11 L192.09 427.42 L193.27 428.76 L194.46 430.15 L195.64 431.58 L196.82 433.06 L198.01 434.57 L199.19 436.13 L200.38 437.73 L201.56 439.37 L202.74 441.04 L203.93 442.75 L205.11 444.49 L206.29 446.25 L207.48 448.03 L208.66 449.82 L209.84 451.61 L211.03 453.4 L212.21 455.18 L213.39 456.93 L214.58 458.67 L215.76 460.37 L216.95 462.04 L218.13 463.67 L219.31 465.26 L220.5 466.82 L221.68 468.35 L222.86 469.85 L224.05 471.33 L225.23 472.79 L226.41 474.23 L227.6 475.67 L228.78 477.11 L229.96 478.54 L231.15 479.97 L232.33 481.4 L233.52 482.83 L234.7 484.26 L235.88 485.7 L237.07 487.14 L238.25 488.57 L239.43 490.01 L240.62 491.45 L241.8 492.88 L242.98 494.32 L244.17 495.75 L245.35 497.18 L246.53 498.61 L247.72 500.04 L248.9 501.46 L250.08 502.89 L251.27 504.3 L252.45 505.72 L253.64 507.13 L254.82 508.53 L256 509.93 L257.19 511.33 L258.37 512.71 L259.55 514.1 L260.74 515.47 L261.92 516.84 L263.1 518.2 L264.29 519.56 L265.47 520.91 L266.65 522.25 L267.84 523.58 L269.02 524.9 L270.21 526.21 L271.39 527.52 L272.57 528.82 L273.76 530.1 L274.94 531.38 L276.12 532.65 L277.31 533.91 L278.49 535.15 L279.67 536.39 L280.86 537.62 L282.04 538.83 L283.22 540.04 L284.41 541.23 L285.59 542.41 L286.78 543.58 L287.96 544.74 L289.14 545.89 L290.33 547.02 L291.51 548.15 L292.69 549.26 L293.88 550.36 L295.06 551.45 L296.24 552.52 L297.43 553.58 L298.61 554.63 L299.79 555.67 L300.98 556.7 L302.16 557.71 L303.35 558.71 L304.53 559.7 L305.71 560.68 L306.9 561.64 L308.08 562.59 L309.26 563.53 L310.45 564.45 L311.63 565.37 L312.81 566.27 L314 567.16 L315.18 568.03 L316.36 568.9 L317.55 569.75 L318.73 570.59 L319.92 571.41 L321.1 572.23 L322.28 573.03 L323.47 573.82 L324.65 574.6 L325.83 575.37 L327.02 576.12 L328.2 576.87 L329.38 577.6 L330.57 578.32 L331.75 579.03 L332.93 579.73 L334.12 580.42 L335.3 581.09 L336.48 581.76 L337.67 582.41 L338.85 583.06 L340.04 583.69 L341.22 584.32 L342.4 584.93 L343.59 585.53 L344.77 586.13 L345.95 586.71 L347.14 587.28 L348.32 587.85 L349.5 588.4 L350.69 588.95 L351.87 589.49 L353.05 590.01 L354.24 590.53 L355.42 591.04 L356.61 591.54 L357.79 592.04 L358.97 592.52 L360.16 593 L361.34 593.46 L362.52 593.92 L363.71 594.38 L364.89 594.82 L366.07 595.26 L367.26 595.69 L368.44 596.11 L369.62 596.53 L370.81 596.94 L371.99 597.34 L373.18 597.73 L374.36 598.12 L375.54 598.5 L376.73 598.88 L377.91 599.25 L379.09 599.61 L380.28 599.97 L381.46 600.32 L382.64 600.67 L383.83 601.01 L385.01 601.34 L386.19 601.67 L387.38 602 L388.56 602.32 L389.75 602.63 L390.93 602.94 L392.11 603.24 L393.3 603.54 L394.48 603.84 L395.66 604.13 L396.85 604.41 L398.03 604.69 L399.21 604.97 L400.4 605.24 L401.58 605.51 L402.76 605.78 L403.95 606.04 L405.13 606.29 L406.32 606.55 L407.5 606.79 L408.68 607.04 L409.87 607.28 L411.05 607.52 L412.23 607.75 L413.42 607.99 L414.6 608.21" fill="none" stroke="#dd8452" stroke-width="3.8" stroke-linejoin="round" stroke-linecap="round"/><path d="M126.6 392.8 L127.34 393.04 L128.08 393.4 L128.82 393.83 L129.55 394.3 L130.29 394.81 L131.03 395.35 L131.77 395.91 L132.51 396.49 L133.25 397.1 L133.98 397.71 L134.72 398.34 L135.46 398.98 L136.2 399.63 L136.94 400.29 L137.68 400.96 L138.42 401.63 L139.15 402.3 L139.89 402.98 L140.63 403.65 L141.37 404.33 L142.11 405.01 L142.85 405.69 L143.58 406.37 L144.32 407.05 L145.06 407.73 L145.8 408.4 L146.54 409.07 L147.28 409.74 L148.02 410.4 L148.75 411.06 L149.49 411.71 L150.23 412.36 L150.97 413 L151.71 413.64 L152.45 414.28 L153.18 414.9 L153.92 415.52 L154.66 416.14 L155.4 416.74 L156.58 417.71 L157.77 418.65 L158.95 419.57 L160.13 420.48 L161.32 421.37 L162.5 422.24 L163.68 423.09 L164.87 423.92 L166.05 424.74 L167.24 425.53 L168.42 426.31 L169.6 427.07 L170.79 427.81 L171.97 428.53 L173.15 429.23 L174.34 429.92 L175.52 430.59 L176.7 431.24 L177.89 431.87 L179.07 432.49 L180.25 433.09 L181.44 433.68 L182.62 434.25 L183.81 434.81 L184.99 435.35 L186.17 435.88 L187.36 436.39 L188.54 436.89 L189.72 437.38 L190.91 437.86 L192.09 438.32 L193.27 438.77 L194.46 439.21 L195.64 439.64 L196.82 440.06 L198.01 440.46 L199.19 440.86 L200.38 441.25 L201.56 441.63 L202.74 442 L203.93 442.36 L205.11 442.71 L206.29 443.05 L207.48 443.39 L208.66 443.72 L209.84 444.04 L211.03 444.36 L212.21 444.67 L213.39 444.97 L214.58 445.26 L215.76 445.55 L216.95 445.84 L218.13 446.12 L219.31 446.39 L220.5 446.66 L221.68 446.93 L222.86 447.19 L224.05 447.45 L225.23 447.7 L226.41 447.95 L227.6 448.2 L228.78 448.44 L229.96 448.68 L231.15 448.91 L232.33 449.15 L233.52 449.38 L234.7 449.61 L235.88 449.83 L237.07 450.06 L238.25 450.28 L239.43 450.5 L240.62 450.72 L241.8 450.94 L242.98 451.15 L244.17 451.37 L245.35 451.58 L246.53 451.79 L247.72 452.01 L248.9 452.22 L250.08 452.43 L251.27 452.64 L252.45 452.85 L253.64 453.07 L254.82 453.28 L256 453.49 L257.19 453.7 L258.37 453.92 L259.55 454.13 L260.74 454.35 L261.92 454.56 L263.1 454.78 L264.29 455 L265.47 455.23 L266.65 455.45 L267.84 455.68 L269.02 455.9 L270.21 456.14 L271.39 456.37 L272.57 456.61 L273.76 456.85 L274.94 457.09 L276.12 457.34 L277.31 457.59 L278.49 457.85 L279.67 458.11 L280.86 458.37 L282.04 458.64 L283.22 458.92 L284.41 459.2 L285.59 459.49 L286.78 459.78 L287.96 460.08 L289.14 460.39 L290.33 460.7 L291.51 461.02 L292.69 461.35 L293.88 461.69 L295.06 462.04 L296.24 462.39 L297.43 462.76 L298.61 463.13 L299.79 463.52 L300.98 463.91 L302.16 464.32 L303.35 464.74 L304.53 465.17 L305.71 465.61 L306.9 466.07 L308.08 466.54 L309.26 467.03 L310.45 467.52 L311.63 468.04 L312.81 468.57 L314 469.11 L315.18 469.68 L316.36 470.26 L317.55 470.85 L318.73 471.47 L319.92 472.11 L321.1 472.76 L322.28 473.44 L323.47 474.13 L324.65 474.85 L325.83 475.59 L327.02 476.35 L328.2 477.13 L329.38 477.94 L330.57 478.77 L331.75 479.63 L332.93 480.51 L334.12 481.42 L335.3 482.35 L336.48 483.31 L337.67 484.3 L338.85 485.31 L340.04 486.36 L341.22 487.43 L342.4 488.53 L343.59 489.66 L344.77 490.82 L345.95 492.01 L347.14 493.23 L348.32 494.48 L349.5 495.76 L350.69 497.07 L351.87 498.41 L353.05 499.78 L354.24 501.18 L355.42 502.62 L356.61 504.08 L357.79 505.57 L358.97 507.09 L360.16 508.64 L361.34 510.22 L362.52 511.82 L363.71 513.46 L364.89 515.12 L366.07 516.8 L367.26 518.51 L368.44 520.24 L369.62 522 L370.81 523.77 L371.99 525.57 L373.18 527.38 L374.36 529.21 L375.54 531.06 L376.73 532.92 L377.91 534.79 L379.09 536.67 L380.28 538.56 L381.46 540.46 L382.64 542.36 L383.83 544.26 L385.01 546.16 L386.19 548.06 L387.38 549.95 L388.56 551.83 L389.75 553.71 L390.93 555.57 L392.11 557.42 L393.3 559.25 L394.48 561.07 L395.66 562.86 L396.85 564.62 L398.03 566.36 L399.21 568.07 L400.4 569.75 L401.58 571.4 L402.76 573.01 L403.95 574.59 L405.13 576.13 L406.32 577.62 L407.5 579.08 L408.68 580.49 L409.87 581.86 L411.05 583.18 L412.23 584.45 L413.42 585.68 L414.6 586.86" fill="none" stroke="#dd8452" stroke-width="3.8" stroke-linejoin="round" stroke-linecap="round"/><path d="M126.6 392.8 L127.34 392.8 L128.08 392.8 L128.82 392.8 L129.55 392.8 L130.29 392.8 L131.03 392.8 L131.77 392.8 L132.51 392.8 L133.25 392.8 L133.98 392.8 L134.72 392.8 L135.46 392.8 L136.2 392.8 L136.94 392.8 L137.68 392.8 L138.42 392.8 L139.15 392.8 L139.89 392.8 L140.63 392.8 L141.37 392.8 L142.11 392.8 L142.85 392.8 L143.58 392.8 L144.32 392.8 L145.06 392.8 L145.8 392.8 L146.54 392.8 L147.28 392.8 L148.02 392.8 L148.75 392.8 L149.49 392.8 L150.23 392.8 L150.97 392.8 L151.71 392.8 L152.45 392.8 L153.18 392.8 L153.92 392.8 L154.66 392.8 L155.4 392.8 L156.58 392.8 L157.77 392.8 L158.95 392.8 L160.13 392.8 L161.32 392.8 L162.5 392.8 L163.68 392.8 L164.87 392.8 L166.05 392.8 L167.24 392.8 L168.42 392.8 L169.6 392.8 L170.79 392.8 L171.97 392.8 L173.15 392.8 L174.34 392.8 L175.52 392.8 L176.7 392.8 L177.89 392.8 L179.07 392.8 L180.25 392.8 L181.44 392.8 L182.62 392.8 L183.81 392.8 L184.99 392.8 L186.17 392.8 L187.36 392.8 L188.54 392.8 L189.72 392.8 L190.91 392.8 L192.09 392.8 L193.27 392.8 L194.46 392.8 L195.64 392.8 L196.82 392.8 L198.01 392.8 L199.19 392.8 L200.38 392.8 L201.56 392.8 L202.74 392.8 L203.93 392.8 L205.11 392.8 L206.29 392.8 L207.48 392.8 L208.66 392.8 L209.84 392.81 L211.03 392.81 L212.21 392.81 L213.39 392.81 L214.58 392.81 L215.76 392.82 L216.95 392.82 L218.13 392.82 L219.31 392.83 L220.5 392.83 L221.68 392.84 L222.86 392.85 L224.05 392.86 L225.23 392.87 L226.41 392.88 L227.6 392.89 L228.78 392.91 L229.96 392.93 L231.15 392.96 L232.33 392.98 L233.52 393.02 L234.7 393.05 L235.88 393.1 L237.07 393.15 L238.25 393.21 L239.43 393.28 L240.62 393.36 L241.8 393.45 L242.98 393.55 L244.17 393.67 L245.35 393.81 L246.53 393.97 L247.72 394.15 L248.9 394.36 L250.08 394.59 L251.27 394.86 L252.45 395.17 L253.64 395.52 L254.82 395.91 L256 396.36 L257.19 396.86 L258.37 397.43 L259.55 398.06 L260.74 398.78 L261.92 399.57 L263.1 400.46 L264.29 401.44 L265.47 402.53 L266.65 403.74 L267.84 405.06 L269.02 406.51 L270.21 408.09 L271.39 409.8 L272.57 411.66 L273.76 413.66 L274.94 415.81 L276.12 418.1 L277.31 420.54 L278.49 423.13 L279.67 425.85 L280.86 428.71 L282.04 431.7 L283.22 434.82 L284.41 438.07 L285.59 441.43 L286.78 444.9 L287.96 448.48 L289.14 452.17 L290.33 455.95 L291.51 459.83 L292.69 463.79 L293.88 467.85 L295.06 471.98 L296.24 476.19 L297.43 480.47 L298.61 484.82 L299.79 489.22 L300.98 493.66 L302.16 498.14 L303.35 502.65 L304.53 507.18 L305.71 511.7 L306.9 516.22 L308.08 520.71 L309.26 525.17 L310.45 529.58 L311.63 533.93 L312.81 538.21 L314 542.4 L315.18 546.5 L316.36 550.49 L317.55 554.37 L318.73 558.13 L319.92 561.77 L321.1 565.27 L322.28 568.64 L323.47 571.87 L324.65 574.97 L325.83 577.92 L327.02 580.74 L328.2 583.42 L329.38 585.96 L330.57 588.37 L331.75 590.66 L332.93 592.82 L334.12 594.85 L335.3 596.78 L336.48 598.59 L337.67 600.29 L338.85 601.89 L340.04 603.39 L341.22 604.8 L342.4 606.12 L343.59 607.36 L344.77 608.52 L345.95 609.61 L347.14 610.62 L348.32 611.57 L349.5 612.46 L350.69 613.29 L351.87 614.07 L353.05 614.79 L354.24 615.47 L355.42 616.1 L356.61 616.69 L357.79 617.25 L358.97 617.76 L360.16 618.24 L361.34 618.69 L362.52 619.11 L363.71 619.5 L364.89 619.87 L366.07 620.21 L367.26 620.53 L368.44 620.83 L369.62 621.11 L370.81 621.37 L371.99 621.61 L373.18 621.84 L374.36 622.05 L375.54 622.25 L376.73 622.44 L377.91 622.61 L379.09 622.77 L380.28 622.93 L381.46 623.07 L382.64 623.2 L383.83 623.33 L385.01 623.44 L386.19 623.55 L387.38 623.66 L388.56 623.75 L389.75 623.84 L390.93 623.93 L392.11 624.01 L393.3 624.08 L394.48 624.15 L395.66 624.22 L396.85 624.28 L398.03 624.34 L399.21 624.39 L400.4 624.44 L401.58 624.49 L402.76 624.54 L403.95 624.58 L405.13 624.62 L406.32 624.66 L407.5 624.69 L408.68 624.73 L409.87 624.76 L411.05 624.79 L412.23 624.82 L413.42 624.84 L414.6 624.87" fill="none" stroke="#4c72b0" stroke-width="3.8" stroke-linejoin="round" stroke-linecap="round"/><path d="M126.6 392.8 L127.34 394.43 L128.08 395.83 L128.82 397.15 L129.55 398.43 L130.29 399.67 L131.03 400.89 L131.77 402.1 L132.51 403.29 L133.25 404.48 L133.98 405.66 L134.72 406.84 L135.46 408.02 L136.2 409.2 L136.94 410.38 L137.68 411.57 L138.42 412.77 L139.15 413.97 L139.89 415.18 L140.63 416.4 L141.37 417.63 L142.11 418.87 L142.85 420.12 L143.58 421.38 L144.32 422.65 L145.06 423.93 L145.8 425.21 L146.54 426.51 L147.28 427.82 L148.02 429.13 L148.75 430.45 L149.49 431.78 L150.23 433.11 L150.97 434.44 L151.71 435.78 L152.45 437.12 L153.18 438.46 L153.92 439.79 L154.66 441.13 L155.4 442.46 L156.58 444.57 L157.77 446.66 L158.95 448.73 L160.13 450.76 L161.32 452.76 L162.5 454.7 L163.68 456.61 L164.87 458.46 L166.05 460.25 L167.24 462 L168.42 463.68 L169.6 465.31 L170.79 466.87 L171.97 468.39 L173.15 469.85 L174.34 471.25 L175.52 472.6 L176.7 473.91 L177.89 475.17 L179.07 476.39 L180.25 477.57 L181.44 478.71 L182.62 479.82 L183.81 480.9 L184.99 481.96 L186.17 482.99 L187.36 484 L188.54 484.98 L189.72 485.95 L190.91 486.9 L192.09 487.84 L193.27 488.77 L194.46 489.68 L195.64 490.58 L196.82 491.47 L198.01 492.34 L199.19 493.21 L200.38 494.07 L201.56 494.92 L202.74 495.76 L203.93 496.6 L205.11 497.42 L206.29 498.24 L207.48 499.05 L208.66 499.85 L209.84 500.64 L211.03 501.43 L212.21 502.21 L213.39 502.98 L214.58 503.75 L215.76 504.51 L216.95 505.26 L218.13 506 L219.31 506.74 L220.5 507.47 L221.68 508.19 L222.86 508.91 L224.05 509.62 L225.23 510.33 L226.41 511.03 L227.6 511.72 L228.78 512.4 L229.96 513.08 L231.15 513.76 L232.33 514.43 L233.52 515.09 L234.7 515.74 L235.88 516.39 L237.07 517.04 L238.25 517.68 L239.43 518.31 L240.62 518.94 L241.8 519.56 L242.98 520.18 L244.17 520.79 L245.35 521.4 L246.53 522 L247.72 522.6 L248.9 523.19 L250.08 523.77 L251.27 524.36 L252.45 524.93 L253.64 525.5 L254.82 526.07 L256 526.63 L257.19 527.19 L258.37 527.74 L259.55 528.29 L260.74 528.83 L261.92 529.37 L263.1 529.9 L264.29 530.43 L265.47 530.96 L266.65 531.48 L267.84 532 L269.02 532.51 L270.21 533.01 L271.39 533.52 L272.57 534.02 L273.76 534.51 L274.94 535 L276.12 535.49 L277.31 535.97 L278.49 536.45 L279.67 536.93 L280.86 537.4 L282.04 537.87 L283.22 538.33 L284.41 538.79 L285.59 539.25 L286.78 539.7 L287.96 540.15 L289.14 540.59 L290.33 541.04 L291.51 541.47 L292.69 541.91 L293.88 542.34 L295.06 542.77 L296.24 543.19 L297.43 543.61 L298.61 544.03 L299.79 544.44 L300.98 544.85 L302.16 545.26 L303.35 545.66 L304.53 546.07 L305.71 546.46 L306.9 546.86 L308.08 547.25 L309.26 547.64 L310.45 548.02 L311.63 548.4 L312.81 548.78 L314 549.16 L315.18 549.53 L316.36 549.9 L317.55 550.27 L318.73 550.63 L319.92 551 L321.1 551.35 L322.28 551.71 L323.47 552.06 L324.65 552.41 L325.83 552.76 L327.02 553.11 L328.2 553.45 L329.38 553.79 L330.57 554.12 L331.75 554.46 L332.93 554.79 L334.12 555.12 L335.3 555.45 L336.48 555.77 L337.67 556.09 L338.85 556.41 L340.04 556.73 L341.22 557.04 L342.4 557.35 L343.59 557.66 L344.77 557.97 L345.95 558.27 L347.14 558.57 L348.32 558.87 L349.5 559.17 L350.69 559.47 L351.87 559.76 L353.05 560.05 L354.24 560.34 L355.42 560.63 L356.61 560.91 L357.79 561.19 L358.97 561.47 L360.16 561.75 L361.34 562.02 L362.52 562.3 L363.71 562.57 L364.89 562.84 L366.07 563.11 L367.26 563.37 L368.44 563.64 L369.62 563.9 L370.81 564.16 L371.99 564.41 L373.18 564.67 L374.36 564.92 L375.54 565.18 L376.73 565.43 L377.91 565.68 L379.09 565.92 L380.28 566.17 L381.46 566.41 L382.64 566.65 L383.83 566.89 L385.01 567.13 L386.19 567.37 L387.38 567.61 L388.56 567.84 L389.75 568.07 L390.93 568.31 L392.11 568.54 L393.3 568.77 L394.48 568.99 L395.66 569.22 L396.85 569.45 L398.03 569.68 L399.21 569.9 L400.4 570.13 L401.58 570.35 L402.76 570.58 L403.95 570.81 L405.13 571.03 L406.32 571.26 L407.5 571.49 L408.68 571.72 L409.87 571.95 L411.05 572.19 L412.23 572.42 L413.42 572.66 L414.6 572.91" fill="none" stroke="#4c72b0" stroke-width="3.8" stroke-linejoin="round" stroke-linecap="round"/><path d="M126.6 392.8 L127.34 393.21 L128.08 393.95 L128.82 394.91 L129.55 396.04 L130.29 397.31 L131.03 398.7 L131.77 400.21 L132.51 401.8 L133.25 403.49 L133.98 405.25 L134.72 407.07 L135.46 408.96 L136.2 410.9 L136.94 412.89 L137.68 414.93 L138.42 417 L139.15 419.1 L139.89 421.23 L140.63 423.39 L141.37 425.56 L142.11 427.76 L142.85 429.96 L143.58 432.18 L144.32 434.4 L145.06 436.63 L145.8 438.86 L146.54 441.09 L147.28 443.32 L148.02 445.54 L148.75 447.75 L149.49 449.95 L150.23 452.15 L150.97 454.33 L151.71 456.49 L152.45 458.64 L153.18 460.78 L153.92 462.89 L154.66 464.99 L155.4 467.06 L156.58 470.34 L157.77 473.56 L158.95 476.73 L160.13 479.82 L161.32 482.85 L162.5 485.82 L163.68 488.71 L164.87 491.54 L166.05 494.3 L167.24 496.98 L168.42 499.6 L169.6 502.14 L170.79 504.62 L171.97 507.02 L173.15 509.36 L174.34 511.63 L175.52 513.84 L176.7 515.98 L177.89 518.06 L179.07 520.07 L180.25 522.03 L181.44 523.92 L182.62 525.76 L183.81 527.54 L184.99 529.27 L186.17 530.95 L187.36 532.57 L188.54 534.15 L189.72 535.68 L190.91 537.16 L192.09 538.6 L193.27 540 L194.46 541.36 L195.64 542.68 L196.82 543.96 L198.01 545.2 L199.19 546.41 L200.38 547.59 L201.56 548.73 L202.74 549.85 L203.93 550.93 L205.11 551.99 L206.29 553.02 L207.48 554.03 L208.66 555.01 L209.84 555.97 L211.03 556.9 L212.21 557.82 L213.39 558.71 L214.58 559.59 L215.76 560.45 L216.95 561.28 L218.13 562.1 L219.31 562.91 L220.5 563.7 L221.68 564.47 L222.86 565.23 L224.05 565.98 L225.23 566.71 L226.41 567.43 L227.6 568.14 L228.78 568.83 L229.96 569.52 L231.15 570.19 L232.33 570.85 L233.52 571.5 L234.7 572.14 L235.88 572.78 L237.07 573.4 L238.25 574.01 L239.43 574.62 L240.62 575.21 L241.8 575.8 L242.98 576.38 L244.17 576.95 L245.35 577.51 L246.53 578.07 L247.72 578.62 L248.9 579.16 L250.08 579.69 L251.27 580.22 L252.45 580.74 L253.64 581.25 L254.82 581.76 L256 582.26 L257.19 582.75 L258.37 583.23 L259.55 583.71 L260.74 584.19 L261.92 584.65 L263.1 585.11 L264.29 585.57 L265.47 586.02 L266.65 586.46 L267.84 586.9 L269.02 587.33 L270.21 587.75 L271.39 588.17 L272.57 588.58 L273.76 588.99 L274.94 589.39 L276.12 589.79 L277.31 590.18 L278.49 590.57 L279.67 590.95 L280.86 591.32 L282.04 591.69 L283.22 592.06 L284.41 592.41 L285.59 592.77 L286.78 593.12 L287.96 593.46 L289.14 593.8 L290.33 594.13 L291.51 594.46 L292.69 594.78 L293.88 595.1 L295.06 595.41 L296.24 595.72 L297.43 596.03 L298.61 596.32 L299.79 596.62 L300.98 596.91 L302.16 597.19 L303.35 597.47 L304.53 597.75 L305.71 598.02 L306.9 598.29 L308.08 598.55 L309.26 598.81 L310.45 599.06 L311.63 599.31 L312.81 599.56 L314 599.8 L315.18 600.04 L316.36 600.27 L317.55 600.5 L318.73 600.72 L319.92 600.95 L321.1 601.16 L322.28 601.38 L323.47 601.59 L324.65 601.79 L325.83 601.99 L327.02 602.19 L328.2 602.39 L329.38 602.58 L330.57 602.77 L331.75 602.95 L332.93 603.13 L334.12 603.31 L335.3 603.49 L336.48 603.66 L337.67 603.82 L338.85 603.99 L340.04 604.15 L341.22 604.31 L342.4 604.47 L343.59 604.62 L344.77 604.77 L345.95 604.91 L347.14 605.06 L348.32 605.2 L349.5 605.34 L350.69 605.47 L351.87 605.6 L353.05 605.73 L354.24 605.86 L355.42 605.99 L356.61 606.11 L357.79 606.23 L358.97 606.35 L360.16 606.46 L361.34 606.57 L362.52 606.68 L363.71 606.79 L364.89 606.9 L366.07 607 L367.26 607.1 L368.44 607.2 L369.62 607.3 L370.81 607.4 L371.99 607.49 L373.18 607.58 L374.36 607.67 L375.54 607.76 L376.73 607.85 L377.91 607.93 L379.09 608.01 L380.28 608.1 L381.46 608.18 L382.64 608.26 L383.83 608.33 L385.01 608.41 L386.19 608.49 L387.38 608.56 L388.56 608.64 L389.75 608.71 L390.93 608.78 L392.11 608.85 L393.3 608.93 L394.48 609 L395.66 609.07 L396.85 609.15 L398.03 609.22 L399.21 609.3 L400.4 609.37 L401.58 609.45 L402.76 609.53 L403.95 609.61 L405.13 609.7 L406.32 609.79 L407.5 609.88 L408.68 609.98 L409.87 610.09 L411.05 610.2 L412.23 610.32 L413.42 610.44 L414.6 610.58" fill="none" stroke="#4c72b0" stroke-width="3.8" stroke-linejoin="round" stroke-linecap="round"/>
<polygon points="184.2,408.7 187.23,416.53 195.61,416.99 189.11,422.29 191.25,430.41 184.2,425.86 177.15,430.41 179.29,422.29 172.79,416.99 181.17,416.53" fill="#8da0cb"/><polygon points="298.44,476.12 301.47,483.95 309.85,484.42 303.35,489.72 305.49,497.83 298.44,493.29 291.39,497.83 293.53,489.72 287.03,484.42 295.41,483.95" fill="#a6d854"/><polygon points="376.2,518.67 379.23,526.5 387.61,526.96 381.11,532.27 383.25,540.38 376.2,535.83 369.15,540.38 371.29,532.27 364.79,526.96 373.17,526.5" fill="#66c2a5"/><polygon points="328.2,541.22 331.23,549.05 339.61,549.52 333.11,554.82 335.25,562.93 328.2,558.38 321.15,562.93 323.29,554.82 316.79,549.52 325.17,549.05" fill="#e78ac3"/><polygon points="241.8,564.01 244.83,571.84 253.21,572.3 246.71,577.6 248.85,585.72 241.8,581.17 234.75,585.72 236.89,577.6 230.39,572.3 238.77,571.84" fill="#ffd92f"/><polygon points="270.6,613.3 273.63,621.13 282.01,621.59 275.51,626.89 277.65,635.01 270.6,630.46 263.55,635.01 265.69,626.89 259.19,621.59 267.57,621.13" fill="#fc8d62"/>
<text x="106" y="401.1" font-size="24" text-anchor="end" fill="#262626">1</text><text x="106" y="633.9" font-size="24" text-anchor="end" fill="#262626">0</text><text x="100" y="471.9" font-size="17.5" text-anchor="middle" fill="#262626">2</text><rect x="94.5" y="475.5" width="11" height="1.2" fill="#262626"/><text x="100" y="492.1" font-size="17.5" text-anchor="middle" fill="#262626">3</text><text x="100" y="549.4" font-size="17.5" text-anchor="middle" fill="#262626">1</text><rect x="94.5" y="553" width="11" height="1.2" fill="#262626"/><text x="100" y="569.6" font-size="17.5" text-anchor="middle" fill="#262626">3</text><text x="126.6" y="662.5" font-size="24" text-anchor="middle" fill="#262626">0</text><text x="222.6" y="662.5" font-size="24" text-anchor="middle" fill="#262626">1</text><text x="318.6" y="662.5" font-size="24" text-anchor="middle" fill="#262626">2</text><text x="414.6" y="662.5" font-size="24" text-anchor="middle" fill="#262626">3</text><text x="0" y="0" font-size="21.5" text-anchor="middle" fill="#262626" transform="translate(77.5 509.05) rotate(-90)">Survival Prob.</text>
<text x="270.6" y="692" font-size="21.5" text-anchor="middle" fill="#262626">Days</text>
<path d="M416 518 C436 518 450 510 446.5 494 C444.5 486 440 481 433 478" fill="none" stroke="#ee0000" stroke-width="3.8"/>
<polygon points="416.5,471.5 439,473 428.5,490" fill="#ee0000"/>
<path d="M416 561.6 C430 561.6 449.5 561 449 557.5 C448.5 553.5 440 552 431 551.5" fill="none" stroke="#ee0000" stroke-width="3.6"/>
<polygon points="416.5,548.5 436.5,542.5 431,560" fill="#ee0000"/>
<line x1="527.2" y1="393.3" x2="814.45" y2="393.3" stroke="#cccccc" stroke-width="2"/><line x1="527.2" y1="470.73" x2="814.45" y2="470.73" stroke="#cccccc" stroke-width="2"/><line x1="527.2" y1="548.17" x2="814.45" y2="548.17" stroke="#cccccc" stroke-width="2"/><path d="M527.2 392.5 V625.6 H814.45" fill="none" stroke="#262626" stroke-width="2.5"/>
<circle cx="558.99" cy="470.73" r="8.2" fill="none" stroke="#fc8d62" stroke-width="1.9" stroke-dasharray="6.3 4" stroke-opacity="0.9"/>
<circle cx="579.1" cy="470.73" r="8.2" fill="none" stroke="#ffd92f" stroke-width="1.9" stroke-dasharray="6.3 4" stroke-opacity="0.9"/>
<circle cx="637.31" cy="470.73" r="8.2" fill="none" stroke="#e78ac3" stroke-width="1.9" stroke-dasharray="6.3 4" stroke-opacity="0.9"/>
<circle cx="661.25" cy="470.73" r="8.2" fill="none" stroke="#8da0cb" stroke-width="1.9" stroke-dasharray="6.3 4" stroke-opacity="0.9"/>
<circle cx="707.59" cy="470.73" r="8.2" fill="none" stroke="#a6d854" stroke-width="1.9" stroke-dasharray="6.3 4" stroke-opacity="0.9"/>
<circle cx="766.58" cy="470.73" r="8.2" fill="none" stroke="#66c2a5" stroke-width="1.9" stroke-dasharray="6.3 4" stroke-opacity="0.9"/>
<circle cx="570.48" cy="548.17" r="8.2" fill="none" stroke="#fc8d62" stroke-width="1.9" stroke-dasharray="6.3 4" stroke-opacity="0.9"/>
<circle cx="616.53" cy="548.17" r="8.2" fill="none" stroke="#ffd92f" stroke-width="1.9" stroke-dasharray="6.3 4" stroke-opacity="0.9"/>
<circle cx="704.91" cy="548.17" r="8.2" fill="none" stroke="#8da0cb" stroke-width="1.9" stroke-dasharray="6.3 4" stroke-opacity="0.9"/>
<circle cx="720.62" cy="548.17" r="8.2" fill="none" stroke="#a6d854" stroke-width="1.9" stroke-dasharray="6.3 4" stroke-opacity="0.9"/>
<circle cx="756.52" cy="548.17" r="8.2" fill="none" stroke="#e78ac3" stroke-width="1.9" stroke-dasharray="6.3 4" stroke-opacity="0.9"/>
<circle cx="795.3" cy="548.17" r="8.2" fill="none" stroke="#66c2a5" stroke-width="1.9" stroke-dasharray="6.3 4" stroke-opacity="0.9"/>
<path d="M527.2 393.3 L558.99 470.73 L570.48 548.17 L814.45 617.7" fill="none" stroke="#dd8452" stroke-width="3.0" stroke-linejoin="miter"/>
<path d="M527.2 393.3 L661.44 470.73 L704.91 548.17 L814.45 609.11" fill="none" stroke="#dd8452" stroke-width="3.0" stroke-linejoin="miter"/>
<path d="M527.2 393.3 L766.58 470.73 L795.3 548.17 L814.45 579.14" fill="none" stroke="#dd8452" stroke-width="3.0" stroke-linejoin="miter"/>
<path d="M527.2 393.3 L707.59 470.73 L720.62 548.17 L814.45 607.02" fill="none" stroke="#4c72b0" stroke-width="3.0" stroke-linejoin="miter"/>
<path d="M527.2 393.3 L637.31 470.73 L756.52 548.17 L814.45 599.12" fill="none" stroke="#4c72b0" stroke-width="3.0" stroke-linejoin="miter"/>
<path d="M527.2 393.3 L579.1 470.73 L616.53 548.17 L814.45 615.61" fill="none" stroke="#4c72b0" stroke-width="3.0" stroke-linejoin="miter"/>
<polygon points="584.84,414.52 587.87,422.34 596.25,422.81 589.75,428.11 591.89,436.23 584.84,431.68 577.79,436.23 579.93,428.11 573.43,422.81 581.81,422.34" fill="#8da0cb"/>
<polygon points="699.55,455.17 702.58,463 710.96,463.46 704.46,468.77 706.6,476.88 699.55,472.33 692.5,476.88 694.64,468.77 688.14,463.46 696.52,463" fill="#a6d854"/>
<polygon points="776.15,483.98 779.18,491.8 787.56,492.27 781.06,497.57 783.2,505.68 776.15,501.14 769.1,505.68 771.24,497.57 764.74,492.27 773.12,491.8" fill="#66c2a5"/>
<polygon points="727.99,517.43 731.02,525.25 739.4,525.72 732.9,531.02 735.04,539.14 727.99,534.59 720.93,539.14 723.08,531.02 716.58,525.72 724.95,525.25" fill="#e78ac3"/>
<polygon points="642.1,544.61 645.13,552.43 653.51,552.9 647.01,558.2 649.15,566.32 642.1,561.77 635.05,566.32 637.19,558.2 630.69,552.9 639.07,552.43" fill="#ffd92f"/>
<polygon points="670.83,564.82 673.86,572.64 682.24,573.11 675.73,578.41 677.88,586.53 670.83,581.98 663.77,586.53 665.92,578.41 659.41,573.11 667.79,572.64" fill="#fc8d62"/>
<text x="507" y="401.6" font-size="24" text-anchor="end" fill="#262626">1</text><text x="507" y="634.2" font-size="24" text-anchor="end" fill="#262626">0</text><text x="501" y="472.33" font-size="17.5" text-anchor="middle" fill="#262626">2</text><rect x="495.5" y="475.93" width="11" height="1.2" fill="#262626"/><text x="501" y="492.53" font-size="17.5" text-anchor="middle" fill="#262626">3</text><text x="501" y="549.77" font-size="17.5" text-anchor="middle" fill="#262626">1</text><rect x="495.5" y="553.37" width="11" height="1.2" fill="#262626"/><text x="501" y="569.97" font-size="17.5" text-anchor="middle" fill="#262626">3</text><text x="527.2" y="662.8" font-size="24" text-anchor="middle" fill="#262626">0</text><text x="622.95" y="662.8" font-size="24" text-anchor="middle" fill="#262626">1</text><text x="718.7" y="662.8" font-size="24" text-anchor="middle" fill="#262626">2</text><text x="814.45" y="662.8" font-size="24" text-anchor="middle" fill="#262626">3</text><text x="0" y="0" font-size="21.5" text-anchor="middle" fill="#262626" transform="translate(478.5 509.45) rotate(-90)">Survival Prob.</text>
<text x="670.83" y="692" font-size="21.5" text-anchor="middle" fill="#262626">Days</text>
<line x1="951.5" y1="68" x2="1048.6" y2="68" stroke="#cccccc" stroke-width="2"/><line x1="990.5" y1="144.13" x2="1048.6" y2="144.13" stroke="#cccccc" stroke-width="2"/><line x1="1029.6" y1="220.27" x2="1048.6" y2="220.27" stroke="#cccccc" stroke-width="2"/><rect x="912.2" y="68" width="39.15" height="76.13" fill="#dd8452" stroke="#fff" stroke-width="2"/><rect x="912.2" y="144.13" width="39.15" height="76.13" fill="#dd8452" stroke="#fff" stroke-width="2"/><rect x="912.2" y="220.27" width="39.15" height="76.13" fill="#dd8452" stroke="#fff" stroke-width="2"/><rect x="951.35" y="144.13" width="39.15" height="76.13" fill="#4c72b0" stroke="#fff" stroke-width="2"/><rect x="951.35" y="220.27" width="78.3" height="76.13" fill="#4c72b0" stroke="#fff" stroke-width="2"/><path d="M990.5 68 V296.4" stroke="#888888" stroke-width="3.4" stroke-dasharray="11.4 5.7" stroke-dashoffset="5"/><path d="M912.2 66.4 V296.4 H1050.5" fill="none" stroke="#262626" stroke-width="2.5"/><text x="892" y="76.3" font-size="24" text-anchor="end" fill="#262626">1</text><text x="892" y="305" font-size="24" text-anchor="end" fill="#262626">0</text><text x="886" y="145.73" font-size="17.5" text-anchor="middle" fill="#262626">2</text><rect x="880.5" y="149.33" width="11" height="1.2" fill="#262626"/><text x="886" y="165.93" font-size="17.5" text-anchor="middle" fill="#262626">3</text><text x="886" y="221.87" font-size="17.5" text-anchor="middle" fill="#262626">1</text><rect x="880.5" y="225.47" width="11" height="1.2" fill="#262626"/><text x="886" y="242.07" font-size="17.5" text-anchor="middle" fill="#262626">3</text><text x="912.2" y="334.4" font-size="24" text-anchor="middle" fill="#262626">0</text><text x="990.5" y="334.4" font-size="24" text-anchor="middle" fill="#262626">2</text><text x="0" y="0" font-size="21.5" text-anchor="middle" fill="#262626" transform="translate(864.2 182.2) rotate(-90)">Survival Prob.</text>
<text x="980" y="362.5" font-size="21.5" text-anchor="middle" fill="#262626">Counts</text>
<line x1="990.5" y1="394.3" x2="1048.6" y2="394.3" stroke="#cccccc" stroke-width="2"/><line x1="990.5" y1="470.63" x2="1048.6" y2="470.63" stroke="#cccccc" stroke-width="2"/><line x1="990.5" y1="546.97" x2="1048.6" y2="546.97" stroke="#cccccc" stroke-width="2"/><rect x="912.2" y="394.3" width="39.15" height="76.33" fill="#dd8452" stroke="#fff" stroke-width="2"/><rect x="912.2" y="470.63" width="39.15" height="76.33" fill="#dd8452" stroke="#fff" stroke-width="2"/><rect x="912.2" y="546.97" width="39.15" height="76.33" fill="#dd8452" stroke="#fff" stroke-width="2"/><rect x="951.35" y="394.3" width="39.15" height="76.33" fill="#4c72b0" stroke="#fff" stroke-width="2"/><rect x="951.35" y="470.63" width="39.15" height="76.33" fill="#4c72b0" stroke="#fff" stroke-width="2"/><rect x="951.35" y="546.97" width="39.15" height="76.33" fill="#4c72b0" stroke="#fff" stroke-width="2"/><path d="M990.5 394.3 V623.3" stroke="#888888" stroke-width="3.4" stroke-dasharray="11.4 5.7" stroke-dashoffset="5"/><path d="M912.2 392.7 V623.3 H1050.5" fill="none" stroke="#262626" stroke-width="2.5"/><text x="892" y="402.6" font-size="24" text-anchor="end" fill="#262626">1</text><text x="892" y="631.9" font-size="24" text-anchor="end" fill="#262626">0</text><text x="886" y="472.23" font-size="17.5" text-anchor="middle" fill="#262626">2</text><rect x="880.5" y="475.83" width="11" height="1.2" fill="#262626"/><text x="886" y="492.43" font-size="17.5" text-anchor="middle" fill="#262626">3</text><text x="886" y="548.57" font-size="17.5" text-anchor="middle" fill="#262626">1</text><rect x="880.5" y="552.17" width="11" height="1.2" fill="#262626"/><text x="886" y="568.77" font-size="17.5" text-anchor="middle" fill="#262626">3</text><text x="912.2" y="661.3" font-size="24" text-anchor="middle" fill="#262626">0</text><text x="990.5" y="661.3" font-size="24" text-anchor="middle" fill="#262626">2</text><text x="0" y="0" font-size="21.5" text-anchor="middle" fill="#262626" transform="translate(864.2 508.8) rotate(-90)">Survival Prob.</text>
<text x="980" y="688.8" font-size="21.5" text-anchor="middle" fill="#262626">Counts</text>
<path d="M1144 66.3 V296.2 H1337.5" fill="none" stroke="#262626" stroke-width="2.5"/>
<path d="M1144 296.2 L1207.83 219.93 L1271.67 143.67 L1335.5 67.4" fill="none" stroke="#dd8452" stroke-width="4"/><circle cx="1144" cy="296.2" r="11.5" fill="#dd8452"/><circle cx="1207.83" cy="219.93" r="11.5" fill="#dd8452"/><circle cx="1271.67" cy="143.67" r="11.5" fill="#dd8452"/><circle cx="1335.5" cy="67.4" r="11.5" fill="#dd8452"/>
<path d="M1144 296.2 L1207.83 143.67 L1271.67 67.4 L1335.5 67.4" fill="none" stroke="#4c72b0" stroke-width="4"/><circle cx="1144" cy="296.2" r="11.5" fill="#4c72b0"/><circle cx="1207.83" cy="143.67" r="11.5" fill="#4c72b0"/><circle cx="1271.67" cy="67.4" r="11.5" fill="#4c72b0"/><circle cx="1335.5" cy="67.4" r="11.5" fill="#4c72b0"/>
<path d="M1144 296.2 L1207.83 181.8 L1271.67 105.61 L1335.5 67.4" fill="none" stroke="#808080" stroke-width="4" stroke-dasharray="11 5"/><circle cx="1144" cy="296.2" r="11.5" fill="#808080"/><circle cx="1207.83" cy="181.8" r="11.5" fill="#808080"/><circle cx="1271.67" cy="105.61" r="11.5" fill="#808080"/><circle cx="1335.5" cy="67.4" r="11.5" fill="#808080"/>
<rect x="1198.4" y="210.2" width="128.2" height="77.7" rx="3" fill="#fff" fill-opacity="0.5" stroke="#cccccc" stroke-opacity="0.8" stroke-width="1"/><path d="M1204.6 223.1 H1241.9" stroke="#dd8452" stroke-width="3.4" stroke-linecap="round"/><circle cx="1223.2" cy="223.1" r="12" fill="#dd8452"/><text x="1255.2" y="229.9" font-size="17" text-anchor="start" fill="#262626" textLength="41" lengthAdjust="spacingAndGlyphs"><tspan font-style="italic">x</tspan> = 0</text><path d="M1204.6 247.4 H1241.9" stroke="#4c72b0" stroke-width="3.4" stroke-linecap="round"/><circle cx="1223.2" cy="247.4" r="12" fill="#4c72b0"/><text x="1255.2" y="254.2" font-size="17" text-anchor="start" fill="#262626" textLength="41" lengthAdjust="spacingAndGlyphs"><tspan font-style="italic">x</tspan> = 1</text><path d="M1205.9 271.7 H1239.9" stroke="#808080" stroke-width="3.4" stroke-linecap="round"/><circle cx="1223.2" cy="271.7" r="12" fill="#808080"/><text x="1255.2" y="278.5" font-size="17" text-anchor="start" fill="#262626">Marginal</text>
<text x="1124" y="75.7" font-size="24" text-anchor="end" fill="#262626">1</text><text x="1124" y="304.8" font-size="24" text-anchor="end" fill="#262626">0</text><text x="1118" y="145.27" font-size="17.5" text-anchor="middle" fill="#262626">2</text><rect x="1112.5" y="148.87" width="11" height="1.2" fill="#262626"/><text x="1118" y="165.47" font-size="17.5" text-anchor="middle" fill="#262626">3</text><text x="1118" y="221.53" font-size="17.5" text-anchor="middle" fill="#262626">1</text><rect x="1112.5" y="225.13" width="11" height="1.2" fill="#262626"/><text x="1118" y="241.73" font-size="17.5" text-anchor="middle" fill="#262626">3</text><text x="1144" y="333.7" font-size="24" text-anchor="middle" fill="#262626">0</text><text x="1207.83" y="333.7" font-size="24" text-anchor="middle" fill="#262626">1/3</text><text x="1271.67" y="333.7" font-size="24" text-anchor="middle" fill="#262626">2/3</text><text x="1335.5" y="333.7" font-size="24" text-anchor="middle" fill="#262626">1</text><text x="0" y="0" font-size="21.5" text-anchor="middle" fill="#262626" transform="translate(1095.6 182.8) rotate(-90)">Observed Prob.</text><text x="1239.5" y="363" font-size="21.5" text-anchor="middle" fill="#262626">Predicted Prob.</text>
<path d="M1145.3 393 V623.7 H1338.2" fill="none" stroke="#262626" stroke-width="2.5"/>
<path d="M1145.3 623.7 L1208.9 546.9 L1272.5 470.1 L1336.1 393.3" fill="none" stroke="#dd8452" stroke-width="4"/><circle cx="1145.3" cy="623.7" r="11.5" fill="#dd8452"/><circle cx="1208.9" cy="546.9" r="11.5" fill="#dd8452"/><circle cx="1272.5" cy="470.1" r="11.5" fill="#dd8452"/><circle cx="1336.1" cy="393.3" r="11.5" fill="#dd8452"/>
<path d="M1145.3 623.7 L1208.9 546.9 L1272.5 470.1 L1336.1 393.3" fill="none" stroke="#4c72b0" stroke-width="4"/><circle cx="1145.3" cy="623.7" r="11.5" fill="#4c72b0"/><circle cx="1208.9" cy="546.9" r="11.5" fill="#4c72b0"/><circle cx="1272.5" cy="470.1" r="11.5" fill="#4c72b0"/><circle cx="1336.1" cy="393.3" r="11.5" fill="#4c72b0"/>
<path d="M1145.3 623.7 L1208.9 546.9 L1272.5 470.1 L1336.1 393.3" fill="none" stroke="#808080" stroke-width="4" stroke-dasharray="16.5 5.7"/><circle cx="1145.3" cy="623.7" r="11.5" fill="#808080"/><circle cx="1208.9" cy="546.9" r="11.5" fill="#808080"/><circle cx="1272.5" cy="470.1" r="11.5" fill="#808080"/><circle cx="1336.1" cy="393.3" r="11.5" fill="#808080"/>
<rect x="1200.5" y="401.9" width="128.1" height="78" rx="3" fill="#fff" fill-opacity="0.5" stroke="#cccccc" stroke-opacity="0.8" stroke-width="1"/><path d="M1206.7 414.8 H1244" stroke="#dd8452" stroke-width="3.4" stroke-linecap="round"/><circle cx="1225.3" cy="414.8" r="12" fill="#dd8452"/><text x="1257.3" y="421.6" font-size="17" text-anchor="start" fill="#262626" textLength="41" lengthAdjust="spacingAndGlyphs"><tspan font-style="italic">x</tspan> = 0</text><path d="M1206.7 439.1 H1244" stroke="#4c72b0" stroke-width="3.4" stroke-linecap="round"/><circle cx="1225.3" cy="439.1" r="12" fill="#4c72b0"/><text x="1257.3" y="445.9" font-size="17" text-anchor="start" fill="#262626" textLength="41" lengthAdjust="spacingAndGlyphs"><tspan font-style="italic">x</tspan> = 1</text><path d="M1208 463.4 H1242" stroke="#808080" stroke-width="3.4" stroke-linecap="round"/><circle cx="1225.3" cy="463.4" r="12" fill="#808080"/><text x="1257.3" y="470.2" font-size="17" text-anchor="start" fill="#262626">Marginal</text>
<text x="1124" y="401.6" font-size="24" text-anchor="end" fill="#262626">1</text><text x="1124" y="632.3" font-size="24" text-anchor="end" fill="#262626">0</text><text x="1118" y="471.7" font-size="17.5" text-anchor="middle" fill="#262626">2</text><rect x="1112.5" y="475.3" width="11" height="1.2" fill="#262626"/><text x="1118" y="491.9" font-size="17.5" text-anchor="middle" fill="#262626">3</text><text x="1118" y="548.5" font-size="17.5" text-anchor="middle" fill="#262626">1</text><rect x="1112.5" y="552.1" width="11" height="1.2" fill="#262626"/><text x="1118" y="568.7" font-size="17.5" text-anchor="middle" fill="#262626">3</text><text x="1145.3" y="661.2" font-size="24" text-anchor="middle" fill="#262626">0</text><text x="1208.9" y="661.2" font-size="24" text-anchor="middle" fill="#262626">1/3</text><text x="1272.5" y="661.2" font-size="24" text-anchor="middle" fill="#262626">2/3</text><text x="1336.1" y="661.2" font-size="24" text-anchor="middle" fill="#262626">1</text><text x="0" y="0" font-size="21.5" text-anchor="middle" fill="#262626" transform="translate(1095.6 509.5) rotate(-90)">Observed Prob.</text><text x="1239.5" y="690.5" font-size="21.5" text-anchor="middle" fill="#262626">Predicted Prob.</text>
<text x="54.6" y="365.3" font-size="19" font-weight="bold" fill="#000">(a)</text>
<text x="838.2" y="365.3" font-size="19" font-weight="bold" fill="#000">(b)</text>
<text x="1074.3" y="365.3" font-size="19" font-weight="bold" fill="#000">(c)</text>
<text x="53.9" y="690.8" font-size="19" font-weight="bold" fill="#000">(d)</text>
<text x="450.6" y="690.8" font-size="19" font-weight="bold" fill="#000">(e)</text>
<text x="838.2" y="690.8" font-size="19" font-weight="bold" fill="#000">(f)</text>
<text x="1074.3" y="690.8" font-size="19" font-weight="bold" fill="#000">(g)</text>
<line x1="45.1" y1="3" x2="1368.6" y2="3" stroke="#000" stroke-width="4.1"/>
<line x1="1" y1="699.3" x2="1368.6" y2="699.3" stroke="#000" stroke-width="4.1"/>
<line x1="2.9" y1="45.1" x2="2.9" y2="701.2" stroke="#000" stroke-width="4.1"/>
<line x1="1366.7" y1="1.1" x2="1366.7" y2="701.2" stroke="#000" stroke-width="4.1"/>
<line x1="1" y1="47.3" x2="1368.6" y2="47.3" stroke="#000" stroke-width="4.1"/>
<line x1="47.4" y1="1.1" x2="47.4" y2="701.2" stroke="#000" stroke-width="4.1"/>
<line x1="1" y1="373.3" x2="1368.6" y2="373.3" stroke="#000" stroke-width="3.6"/>
<line x1="832.6" y1="1.1" x2="832.6" y2="701.2" stroke="#000" stroke-width="3.4"/>
<line x1="1069.4" y1="1.1" x2="1069.4" y2="701.2" stroke="#000" stroke-width="3.4"/>
<text x="452.5" y="34.5" font-size="23" font-weight="bold" text-anchor="middle" textLength="115" lengthAdjust="spacingAndGlyphs">Predictions</text>
<text x="953" y="34.5" font-size="23" font-weight="bold" text-anchor="middle" textLength="118" lengthAdjust="spacingAndGlyphs">Histograms</text>
<text x="1217.7" y="34.5" font-size="23" font-weight="bold" text-anchor="middle" textLength="98" lengthAdjust="spacingAndGlyphs">P-P Plots</text>
<text x="0" y="0" font-size="23" font-weight="bold" text-anchor="middle" textLength="153" lengthAdjust="spacingAndGlyphs" transform="translate(34.6 217) rotate(-90)">Before CiPOT</text>
<text x="0" y="0" font-size="23" font-weight="bold" text-anchor="middle" textLength="65" lengthAdjust="spacingAndGlyphs" transform="translate(34.6 540.2) rotate(-90)">CiPOT</text>
</svg></body></html>
